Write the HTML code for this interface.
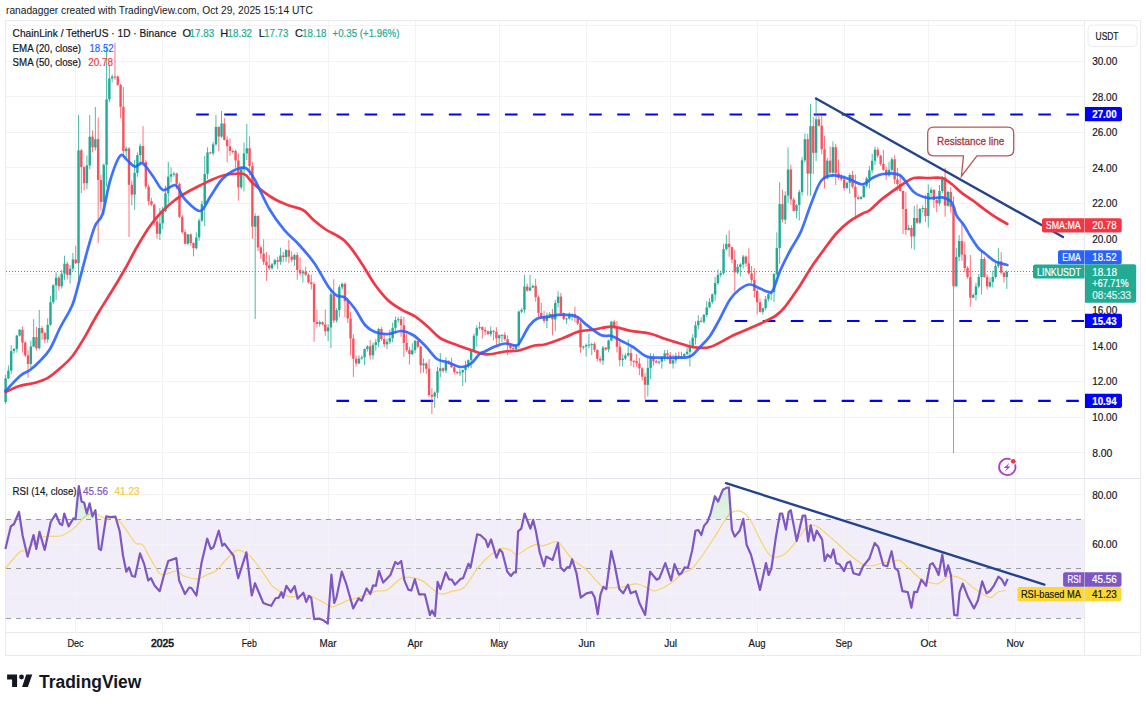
<!DOCTYPE html><html><head><meta charset="utf-8"><style>html,body{margin:0;padding:0;background:#fff;overflow:hidden}svg{display:block}</style></head><body>
<svg width="1146" height="704" viewBox="0 0 1146 704" font-family='"Liberation Sans", sans-serif'>
<rect x="0" y="0" width="1146" height="704" fill="#ffffff"/>
<text x="6" y="14.2" font-size="11" fill="#131722" textLength="307" lengthAdjust="spacingAndGlyphs">ranadagger created with TradingView.com, Oct 29, 2025 15:14 UTC</text>
<rect x="5.5" y="20.5" width="1135" height="635" fill="none" stroke="#e9eaed" stroke-width="1"/>
<rect x="6" y="519.3" width="1078" height="98.8" fill="#7e57c2" fill-opacity="0.1"/>
<line x1="6" y1="452.5" x2="1084" y2="452.5" stroke="#f2f3f4" stroke-width="1"/>
<line x1="6" y1="417.5" x2="1084" y2="417.5" stroke="#f2f3f4" stroke-width="1"/>
<line x1="6" y1="381.5" x2="1084" y2="381.5" stroke="#f2f3f4" stroke-width="1"/>
<line x1="6" y1="345.5" x2="1084" y2="345.5" stroke="#f2f3f4" stroke-width="1"/>
<line x1="6" y1="310.5" x2="1084" y2="310.5" stroke="#f2f3f4" stroke-width="1"/>
<line x1="6" y1="274.5" x2="1084" y2="274.5" stroke="#f2f3f4" stroke-width="1"/>
<line x1="6" y1="239.5" x2="1084" y2="239.5" stroke="#f2f3f4" stroke-width="1"/>
<line x1="6" y1="203.5" x2="1084" y2="203.5" stroke="#f2f3f4" stroke-width="1"/>
<line x1="6" y1="167.5" x2="1084" y2="167.5" stroke="#f2f3f4" stroke-width="1"/>
<line x1="6" y1="132.5" x2="1084" y2="132.5" stroke="#f2f3f4" stroke-width="1"/>
<line x1="6" y1="96.5" x2="1084" y2="96.5" stroke="#f2f3f4" stroke-width="1"/>
<line x1="6" y1="61.5" x2="1084" y2="61.5" stroke="#f2f3f4" stroke-width="1"/>
<line x1="6" y1="25.5" x2="1084" y2="25.5" stroke="#f2f3f4" stroke-width="1"/>
<line x1="6" y1="494.5" x2="1084" y2="494.5" stroke="#f2f3f4" stroke-width="1"/>
<line x1="6" y1="544.5" x2="1084" y2="544.5" stroke="#f2f3f4" stroke-width="1"/>
<line x1="6" y1="593.5" x2="1084" y2="593.5" stroke="#f2f3f4" stroke-width="1"/>
<line x1="75.5" y1="21" x2="75.5" y2="632" stroke="#f2f3f4" stroke-width="1"/>
<line x1="162.5" y1="21" x2="162.5" y2="632" stroke="#f2f3f4" stroke-width="1"/>
<line x1="249.5" y1="21" x2="249.5" y2="632" stroke="#f2f3f4" stroke-width="1"/>
<line x1="328.5" y1="21" x2="328.5" y2="632" stroke="#f2f3f4" stroke-width="1"/>
<line x1="415.5" y1="21" x2="415.5" y2="632" stroke="#f2f3f4" stroke-width="1"/>
<line x1="499.5" y1="21" x2="499.5" y2="632" stroke="#f2f3f4" stroke-width="1"/>
<line x1="586.5" y1="21" x2="586.5" y2="632" stroke="#f2f3f4" stroke-width="1"/>
<line x1="670.5" y1="21" x2="670.5" y2="632" stroke="#f2f3f4" stroke-width="1"/>
<line x1="757.5" y1="21" x2="757.5" y2="632" stroke="#f2f3f4" stroke-width="1"/>
<line x1="844.5" y1="21" x2="844.5" y2="632" stroke="#f2f3f4" stroke-width="1"/>
<line x1="928.5" y1="21" x2="928.5" y2="632" stroke="#f2f3f4" stroke-width="1"/>
<line x1="1015.5" y1="21" x2="1015.5" y2="632" stroke="#f2f3f4" stroke-width="1"/>
<line x1="6" y1="478.5" x2="1140" y2="478.5" stroke="#e3e5ec" stroke-width="1"/>
<line x1="6" y1="632.5" x2="1140" y2="632.5" stroke="#e9eaed" stroke-width="1"/>
<line x1="1084.5" y1="21" x2="1084.5" y2="655" stroke="#e9eaed" stroke-width="1"/>
<line x1="6" y1="519.5" x2="1084" y2="519.5" stroke="#858892" stroke-width="1" stroke-dasharray="5,5" stroke-opacity="0.85"/>
<line x1="6" y1="568.5" x2="1084" y2="568.5" stroke="#858892" stroke-width="1" stroke-dasharray="5,5" stroke-opacity="0.85"/>
<line x1="6" y1="618.5" x2="1084" y2="618.5" stroke="#858892" stroke-width="1" stroke-dasharray="5,5" stroke-opacity="0.85"/>
<line x1="6" y1="271.5" x2="1084" y2="271.5" stroke="#22ab94" stroke-width="1" stroke-dasharray="1,2"/>
<line x1="196.2" y1="114.5" x2="1084" y2="114.5" stroke="#0000ff" stroke-width="2.2" stroke-dasharray="12.6,15.47"/>
<line x1="734.7" y1="321" x2="1084" y2="321" stroke="#0000ff" stroke-width="2.2" stroke-dasharray="12.6,15.47"/>
<line x1="336.4" y1="400.9" x2="1084" y2="400.9" stroke="#0000ff" stroke-width="2.2" stroke-dasharray="12.6,15.47"/>
<g>
<rect x="5.10" y="374.8" width="1" height="29.2" fill="#22ab94" fill-opacity="0.8"/>
<rect x="7.90" y="365.5" width="1" height="13.6" fill="#22ab94" fill-opacity="0.8"/>
<rect x="10.71" y="345.3" width="1" height="28.9" fill="#22ab94" fill-opacity="0.8"/>
<rect x="13.51" y="348.2" width="1" height="5.6" fill="#22ab94" fill-opacity="0.8"/>
<rect x="16.32" y="334.9" width="1" height="17.6" fill="#22ab94" fill-opacity="0.8"/>
<rect x="19.12" y="329.0" width="1" height="7.4" fill="#22ab94" fill-opacity="0.8"/>
<rect x="21.93" y="326.3" width="1" height="26.3" fill="#f7525f" fill-opacity="0.8"/>
<rect x="24.73" y="341.3" width="1" height="15.8" fill="#f7525f" fill-opacity="0.8"/>
<rect x="27.54" y="350.4" width="1" height="27.3" fill="#f7525f" fill-opacity="0.8"/>
<rect x="30.34" y="340.5" width="1" height="27.2" fill="#22ab94" fill-opacity="0.8"/>
<rect x="33.14" y="319.1" width="1" height="28.1" fill="#22ab94" fill-opacity="0.8"/>
<rect x="35.95" y="326.8" width="1" height="23.7" fill="#f7525f" fill-opacity="0.8"/>
<rect x="38.75" y="310.0" width="1" height="39.6" fill="#22ab94" fill-opacity="0.8"/>
<rect x="41.56" y="326.1" width="1" height="13.8" fill="#f7525f" fill-opacity="0.8"/>
<rect x="44.36" y="331.8" width="1" height="11.6" fill="#f7525f" fill-opacity="0.8"/>
<rect x="47.17" y="318.4" width="1" height="24.3" fill="#22ab94" fill-opacity="0.8"/>
<rect x="49.97" y="295.7" width="1" height="30.1" fill="#22ab94" fill-opacity="0.8"/>
<rect x="52.78" y="284.3" width="1" height="19.9" fill="#22ab94" fill-opacity="0.8"/>
<rect x="55.58" y="272.3" width="1" height="27.7" fill="#22ab94" fill-opacity="0.8"/>
<rect x="58.39" y="275.5" width="1" height="15.1" fill="#f7525f" fill-opacity="0.8"/>
<rect x="61.19" y="270.0" width="1" height="18.6" fill="#22ab94" fill-opacity="0.8"/>
<rect x="63.99" y="255.7" width="1" height="24.3" fill="#22ab94" fill-opacity="0.8"/>
<rect x="66.80" y="261.8" width="1" height="17.8" fill="#f7525f" fill-opacity="0.8"/>
<rect x="69.60" y="265.2" width="1" height="18.3" fill="#22ab94" fill-opacity="0.8"/>
<rect x="72.41" y="253.0" width="1" height="17.8" fill="#22ab94" fill-opacity="0.8"/>
<rect x="75.21" y="245.7" width="1" height="18.4" fill="#f7525f" fill-opacity="0.8"/>
<rect x="78.02" y="115.0" width="1" height="170.1" fill="#22ab94" fill-opacity="0.8"/>
<rect x="80.82" y="148.7" width="1" height="44.3" fill="#f7525f" fill-opacity="0.8"/>
<rect x="83.63" y="166.3" width="1" height="24.2" fill="#f7525f" fill-opacity="0.8"/>
<rect x="86.43" y="155.5" width="1" height="33.7" fill="#22ab94" fill-opacity="0.8"/>
<rect x="89.23" y="115.0" width="1" height="54.3" fill="#22ab94" fill-opacity="0.8"/>
<rect x="92.04" y="130.4" width="1" height="22.1" fill="#f7525f" fill-opacity="0.8"/>
<rect x="94.84" y="107.0" width="1" height="43.6" fill="#22ab94" fill-opacity="0.8"/>
<rect x="97.65" y="117.6" width="1" height="125.4" fill="#f7525f" fill-opacity="0.8"/>
<rect x="100.45" y="174.7" width="1" height="35.9" fill="#f7525f" fill-opacity="0.8"/>
<rect x="103.26" y="163.7" width="1" height="51.8" fill="#22ab94" fill-opacity="0.8"/>
<rect x="106.06" y="46.0" width="1" height="140.8" fill="#22ab94" fill-opacity="0.8"/>
<rect x="108.87" y="65.4" width="1" height="36.9" fill="#22ab94" fill-opacity="0.8"/>
<rect x="111.67" y="74.5" width="1" height="7.7" fill="#22ab94" fill-opacity="0.8"/>
<rect x="114.47" y="43.0" width="1" height="36.8" fill="#f7525f" fill-opacity="0.8"/>
<rect x="117.28" y="75.3" width="1" height="10.6" fill="#f7525f" fill-opacity="0.8"/>
<rect x="120.08" y="83.9" width="1" height="34.3" fill="#f7525f" fill-opacity="0.8"/>
<rect x="122.89" y="87.0" width="1" height="68.2" fill="#f7525f" fill-opacity="0.8"/>
<rect x="125.69" y="146.4" width="1" height="11.9" fill="#22ab94" fill-opacity="0.8"/>
<rect x="128.50" y="147.1" width="1" height="89.9" fill="#f7525f" fill-opacity="0.8"/>
<rect x="131.30" y="180.5" width="1" height="24.9" fill="#f7525f" fill-opacity="0.8"/>
<rect x="134.11" y="159.8" width="1" height="50.1" fill="#22ab94" fill-opacity="0.8"/>
<rect x="136.91" y="152.5" width="1" height="24.4" fill="#22ab94" fill-opacity="0.8"/>
<rect x="139.72" y="143.6" width="1" height="21.9" fill="#22ab94" fill-opacity="0.8"/>
<rect x="142.52" y="126.2" width="1" height="37.5" fill="#f7525f" fill-opacity="0.8"/>
<rect x="145.32" y="160.1" width="1" height="28.9" fill="#f7525f" fill-opacity="0.8"/>
<rect x="148.13" y="184.4" width="1" height="21.1" fill="#f7525f" fill-opacity="0.8"/>
<rect x="150.93" y="197.6" width="1" height="8.5" fill="#f7525f" fill-opacity="0.8"/>
<rect x="153.74" y="204.1" width="1" height="21.2" fill="#f7525f" fill-opacity="0.8"/>
<rect x="156.54" y="218.5" width="1" height="20.3" fill="#f7525f" fill-opacity="0.8"/>
<rect x="159.35" y="208.0" width="1" height="32.0" fill="#22ab94" fill-opacity="0.8"/>
<rect x="162.15" y="206.8" width="1" height="22.3" fill="#22ab94" fill-opacity="0.8"/>
<rect x="164.96" y="185.6" width="1" height="26.4" fill="#22ab94" fill-opacity="0.8"/>
<rect x="167.76" y="161.8" width="1" height="41.6" fill="#22ab94" fill-opacity="0.8"/>
<rect x="170.56" y="167.3" width="1" height="15.0" fill="#22ab94" fill-opacity="0.8"/>
<rect x="173.37" y="171.7" width="1" height="4.8" fill="#22ab94" fill-opacity="0.8"/>
<rect x="176.17" y="172.6" width="1" height="16.6" fill="#f7525f" fill-opacity="0.8"/>
<rect x="178.98" y="182.6" width="1" height="35.3" fill="#f7525f" fill-opacity="0.8"/>
<rect x="181.78" y="214.8" width="1" height="19.0" fill="#f7525f" fill-opacity="0.8"/>
<rect x="184.59" y="229.6" width="1" height="14.9" fill="#f7525f" fill-opacity="0.8"/>
<rect x="187.39" y="233.9" width="1" height="11.1" fill="#22ab94" fill-opacity="0.8"/>
<rect x="190.20" y="233.4" width="1" height="12.1" fill="#f7525f" fill-opacity="0.8"/>
<rect x="193.00" y="242.4" width="1" height="14.0" fill="#f7525f" fill-opacity="0.8"/>
<rect x="195.80" y="232.3" width="1" height="17.2" fill="#22ab94" fill-opacity="0.8"/>
<rect x="198.61" y="218.3" width="1" height="22.4" fill="#22ab94" fill-opacity="0.8"/>
<rect x="201.41" y="200.8" width="1" height="21.1" fill="#22ab94" fill-opacity="0.8"/>
<rect x="204.22" y="156.0" width="1" height="70.2" fill="#22ab94" fill-opacity="0.8"/>
<rect x="207.02" y="147.3" width="1" height="31.9" fill="#22ab94" fill-opacity="0.8"/>
<rect x="209.83" y="151.7" width="1" height="2.6" fill="#f7525f" fill-opacity="0.8"/>
<rect x="212.63" y="141.9" width="1" height="13.5" fill="#22ab94" fill-opacity="0.8"/>
<rect x="215.44" y="115.0" width="1" height="30.9" fill="#22ab94" fill-opacity="0.8"/>
<rect x="218.24" y="126.3" width="1" height="25.1" fill="#f7525f" fill-opacity="0.8"/>
<rect x="221.05" y="111.0" width="1" height="26.9" fill="#22ab94" fill-opacity="0.8"/>
<rect x="223.85" y="118.1" width="1" height="22.4" fill="#f7525f" fill-opacity="0.8"/>
<rect x="226.65" y="136.3" width="1" height="25.9" fill="#f7525f" fill-opacity="0.8"/>
<rect x="229.46" y="138.5" width="1" height="17.2" fill="#f7525f" fill-opacity="0.8"/>
<rect x="232.26" y="149.6" width="1" height="4.1" fill="#f7525f" fill-opacity="0.8"/>
<rect x="235.07" y="149.6" width="1" height="18.2" fill="#f7525f" fill-opacity="0.8"/>
<rect x="237.87" y="153.4" width="1" height="47.2" fill="#f7525f" fill-opacity="0.8"/>
<rect x="240.68" y="166.2" width="1" height="23.2" fill="#22ab94" fill-opacity="0.8"/>
<rect x="243.48" y="142.7" width="1" height="48.6" fill="#22ab94" fill-opacity="0.8"/>
<rect x="246.29" y="124.0" width="1" height="36.0" fill="#22ab94" fill-opacity="0.8"/>
<rect x="249.09" y="136.6" width="1" height="38.8" fill="#f7525f" fill-opacity="0.8"/>
<rect x="251.89" y="161.5" width="1" height="77.3" fill="#f7525f" fill-opacity="0.8"/>
<rect x="254.70" y="213.3" width="1" height="105.7" fill="#22ab94" fill-opacity="0.8"/>
<rect x="257.50" y="215.2" width="1" height="35.9" fill="#f7525f" fill-opacity="0.8"/>
<rect x="260.31" y="245.8" width="1" height="13.0" fill="#f7525f" fill-opacity="0.8"/>
<rect x="263.11" y="239.2" width="1" height="25.7" fill="#f7525f" fill-opacity="0.8"/>
<rect x="265.92" y="252.0" width="1" height="28.9" fill="#f7525f" fill-opacity="0.8"/>
<rect x="268.72" y="254.9" width="1" height="15.2" fill="#f7525f" fill-opacity="0.8"/>
<rect x="271.53" y="262.9" width="1" height="6.7" fill="#22ab94" fill-opacity="0.8"/>
<rect x="274.33" y="258.9" width="1" height="6.7" fill="#22ab94" fill-opacity="0.8"/>
<rect x="277.13" y="256.8" width="1" height="12.3" fill="#f7525f" fill-opacity="0.8"/>
<rect x="279.94" y="247.7" width="1" height="17.2" fill="#22ab94" fill-opacity="0.8"/>
<rect x="282.74" y="251.9" width="1" height="10.3" fill="#f7525f" fill-opacity="0.8"/>
<rect x="285.55" y="249.2" width="1" height="12.7" fill="#22ab94" fill-opacity="0.8"/>
<rect x="288.35" y="239.9" width="1" height="23.4" fill="#f7525f" fill-opacity="0.8"/>
<rect x="291.16" y="251.6" width="1" height="10.6" fill="#f7525f" fill-opacity="0.8"/>
<rect x="293.96" y="253.9" width="1" height="11.9" fill="#22ab94" fill-opacity="0.8"/>
<rect x="296.77" y="252.2" width="1" height="27.6" fill="#f7525f" fill-opacity="0.8"/>
<rect x="299.57" y="257.4" width="1" height="18.0" fill="#f7525f" fill-opacity="0.8"/>
<rect x="302.38" y="269.6" width="1" height="12.9" fill="#22ab94" fill-opacity="0.8"/>
<rect x="305.18" y="266.8" width="1" height="9.1" fill="#f7525f" fill-opacity="0.8"/>
<rect x="307.98" y="273.7" width="1" height="9.8" fill="#f7525f" fill-opacity="0.8"/>
<rect x="310.79" y="274.9" width="1" height="14.5" fill="#f7525f" fill-opacity="0.8"/>
<rect x="313.59" y="281.8" width="1" height="60.0" fill="#f7525f" fill-opacity="0.8"/>
<rect x="316.40" y="309.7" width="1" height="17.9" fill="#f7525f" fill-opacity="0.8"/>
<rect x="319.20" y="320.4" width="1" height="6.4" fill="#22ab94" fill-opacity="0.8"/>
<rect x="322.01" y="321.3" width="1" height="3.8" fill="#f7525f" fill-opacity="0.8"/>
<rect x="324.81" y="309.6" width="1" height="26.3" fill="#f7525f" fill-opacity="0.8"/>
<rect x="327.62" y="324.3" width="1" height="16.7" fill="#22ab94" fill-opacity="0.8"/>
<rect x="330.42" y="288.2" width="1" height="60.0" fill="#22ab94" fill-opacity="0.8"/>
<rect x="333.22" y="279.2" width="1" height="43.8" fill="#f7525f" fill-opacity="0.8"/>
<rect x="336.03" y="308.0" width="1" height="14.6" fill="#22ab94" fill-opacity="0.8"/>
<rect x="338.83" y="284.6" width="1" height="32.5" fill="#22ab94" fill-opacity="0.8"/>
<rect x="341.64" y="282.4" width="1" height="7.2" fill="#22ab94" fill-opacity="0.8"/>
<rect x="344.44" y="282.5" width="1" height="34.6" fill="#f7525f" fill-opacity="0.8"/>
<rect x="347.25" y="297.8" width="1" height="25.2" fill="#f7525f" fill-opacity="0.8"/>
<rect x="350.05" y="312.0" width="1" height="43.4" fill="#f7525f" fill-opacity="0.8"/>
<rect x="352.86" y="334.1" width="1" height="42.8" fill="#f7525f" fill-opacity="0.8"/>
<rect x="355.66" y="355.7" width="1" height="11.0" fill="#f7525f" fill-opacity="0.8"/>
<rect x="358.46" y="355.4" width="1" height="8.7" fill="#22ab94" fill-opacity="0.8"/>
<rect x="361.27" y="355.3" width="1" height="4.4" fill="#22ab94" fill-opacity="0.8"/>
<rect x="364.07" y="348.5" width="1" height="16.5" fill="#22ab94" fill-opacity="0.8"/>
<rect x="366.88" y="345.3" width="1" height="6.3" fill="#22ab94" fill-opacity="0.8"/>
<rect x="369.68" y="340.0" width="1" height="19.6" fill="#f7525f" fill-opacity="0.8"/>
<rect x="372.49" y="342.6" width="1" height="16.8" fill="#22ab94" fill-opacity="0.8"/>
<rect x="375.29" y="339.1" width="1" height="11.4" fill="#22ab94" fill-opacity="0.8"/>
<rect x="378.10" y="327.9" width="1" height="19.3" fill="#22ab94" fill-opacity="0.8"/>
<rect x="380.90" y="327.1" width="1" height="13.9" fill="#f7525f" fill-opacity="0.8"/>
<rect x="383.71" y="333.0" width="1" height="14.4" fill="#f7525f" fill-opacity="0.8"/>
<rect x="386.51" y="338.5" width="1" height="10.7" fill="#22ab94" fill-opacity="0.8"/>
<rect x="389.31" y="329.5" width="1" height="14.6" fill="#22ab94" fill-opacity="0.8"/>
<rect x="392.12" y="322.7" width="1" height="19.4" fill="#22ab94" fill-opacity="0.8"/>
<rect x="394.92" y="316.4" width="1" height="17.0" fill="#22ab94" fill-opacity="0.8"/>
<rect x="397.73" y="317.0" width="1" height="5.8" fill="#22ab94" fill-opacity="0.8"/>
<rect x="400.53" y="316.1" width="1" height="20.5" fill="#f7525f" fill-opacity="0.8"/>
<rect x="403.34" y="316.8" width="1" height="40.2" fill="#f7525f" fill-opacity="0.8"/>
<rect x="406.14" y="330.4" width="1" height="21.4" fill="#f7525f" fill-opacity="0.8"/>
<rect x="408.95" y="346.7" width="1" height="17.8" fill="#f7525f" fill-opacity="0.8"/>
<rect x="411.75" y="343.3" width="1" height="11.7" fill="#22ab94" fill-opacity="0.8"/>
<rect x="414.55" y="339.8" width="1" height="13.5" fill="#22ab94" fill-opacity="0.8"/>
<rect x="417.36" y="340.2" width="1" height="8.1" fill="#f7525f" fill-opacity="0.8"/>
<rect x="420.16" y="345.7" width="1" height="27.5" fill="#f7525f" fill-opacity="0.8"/>
<rect x="422.97" y="358.4" width="1" height="14.3" fill="#22ab94" fill-opacity="0.8"/>
<rect x="425.77" y="362.3" width="1" height="11.5" fill="#f7525f" fill-opacity="0.8"/>
<rect x="428.58" y="359.1" width="1" height="37.8" fill="#f7525f" fill-opacity="0.8"/>
<rect x="431.38" y="388.2" width="1" height="25.8" fill="#f7525f" fill-opacity="0.8"/>
<rect x="434.19" y="391.3" width="1" height="16.5" fill="#22ab94" fill-opacity="0.8"/>
<rect x="436.99" y="366.9" width="1" height="31.2" fill="#22ab94" fill-opacity="0.8"/>
<rect x="439.79" y="353.0" width="1" height="24.3" fill="#22ab94" fill-opacity="0.8"/>
<rect x="442.60" y="367.2" width="1" height="5.7" fill="#f7525f" fill-opacity="0.8"/>
<rect x="445.40" y="357.4" width="1" height="15.7" fill="#22ab94" fill-opacity="0.8"/>
<rect x="448.21" y="360.2" width="1" height="4.2" fill="#f7525f" fill-opacity="0.8"/>
<rect x="451.01" y="357.7" width="1" height="10.0" fill="#f7525f" fill-opacity="0.8"/>
<rect x="453.82" y="363.8" width="1" height="10.7" fill="#f7525f" fill-opacity="0.8"/>
<rect x="456.62" y="371.3" width="1" height="3.3" fill="#f7525f" fill-opacity="0.8"/>
<rect x="459.43" y="369.1" width="1" height="6.8" fill="#22ab94" fill-opacity="0.8"/>
<rect x="462.23" y="369.4" width="1" height="16.6" fill="#22ab94" fill-opacity="0.8"/>
<rect x="465.04" y="360.8" width="1" height="21.8" fill="#22ab94" fill-opacity="0.8"/>
<rect x="467.84" y="359.2" width="1" height="9.1" fill="#22ab94" fill-opacity="0.8"/>
<rect x="470.64" y="349.1" width="1" height="18.9" fill="#22ab94" fill-opacity="0.8"/>
<rect x="473.45" y="333.4" width="1" height="17.7" fill="#22ab94" fill-opacity="0.8"/>
<rect x="476.25" y="325.3" width="1" height="21.3" fill="#22ab94" fill-opacity="0.8"/>
<rect x="479.06" y="321.8" width="1" height="7.7" fill="#22ab94" fill-opacity="0.8"/>
<rect x="481.86" y="326.1" width="1" height="12.4" fill="#f7525f" fill-opacity="0.8"/>
<rect x="484.67" y="327.0" width="1" height="8.3" fill="#f7525f" fill-opacity="0.8"/>
<rect x="487.47" y="330.5" width="1" height="4.3" fill="#f7525f" fill-opacity="0.8"/>
<rect x="490.28" y="326.4" width="1" height="10.1" fill="#22ab94" fill-opacity="0.8"/>
<rect x="493.08" y="330.1" width="1" height="10.1" fill="#f7525f" fill-opacity="0.8"/>
<rect x="495.88" y="327.2" width="1" height="18.1" fill="#f7525f" fill-opacity="0.8"/>
<rect x="498.69" y="334.4" width="1" height="10.7" fill="#22ab94" fill-opacity="0.8"/>
<rect x="501.49" y="334.2" width="1" height="7.8" fill="#22ab94" fill-opacity="0.8"/>
<rect x="504.30" y="332.2" width="1" height="8.8" fill="#f7525f" fill-opacity="0.8"/>
<rect x="507.10" y="335.5" width="1" height="19.7" fill="#f7525f" fill-opacity="0.8"/>
<rect x="509.91" y="343.2" width="1" height="6.0" fill="#f7525f" fill-opacity="0.8"/>
<rect x="512.71" y="345.6" width="1" height="4.9" fill="#f7525f" fill-opacity="0.8"/>
<rect x="515.52" y="344.4" width="1" height="5.9" fill="#22ab94" fill-opacity="0.8"/>
<rect x="518.32" y="310.6" width="1" height="37.5" fill="#22ab94" fill-opacity="0.8"/>
<rect x="521.12" y="308.1" width="1" height="5.1" fill="#22ab94" fill-opacity="0.8"/>
<rect x="523.93" y="275.0" width="1" height="37.9" fill="#22ab94" fill-opacity="0.8"/>
<rect x="526.73" y="283.6" width="1" height="8.1" fill="#f7525f" fill-opacity="0.8"/>
<rect x="529.54" y="275.0" width="1" height="16.1" fill="#22ab94" fill-opacity="0.8"/>
<rect x="532.34" y="284.5" width="1" height="3.5" fill="#22ab94" fill-opacity="0.8"/>
<rect x="535.15" y="278.7" width="1" height="22.9" fill="#f7525f" fill-opacity="0.8"/>
<rect x="537.95" y="295.3" width="1" height="22.0" fill="#f7525f" fill-opacity="0.8"/>
<rect x="540.76" y="302.6" width="1" height="15.5" fill="#f7525f" fill-opacity="0.8"/>
<rect x="543.56" y="310.9" width="1" height="12.4" fill="#f7525f" fill-opacity="0.8"/>
<rect x="546.36" y="312.4" width="1" height="15.8" fill="#22ab94" fill-opacity="0.8"/>
<rect x="549.17" y="312.1" width="1" height="6.0" fill="#22ab94" fill-opacity="0.8"/>
<rect x="551.97" y="309.1" width="1" height="26.4" fill="#f7525f" fill-opacity="0.8"/>
<rect x="554.78" y="299.9" width="1" height="31.3" fill="#22ab94" fill-opacity="0.8"/>
<rect x="557.58" y="291.2" width="1" height="16.4" fill="#22ab94" fill-opacity="0.8"/>
<rect x="560.39" y="292.9" width="1" height="23.5" fill="#f7525f" fill-opacity="0.8"/>
<rect x="563.19" y="312.5" width="1" height="7.6" fill="#f7525f" fill-opacity="0.8"/>
<rect x="566.00" y="317.8" width="1" height="6.0" fill="#22ab94" fill-opacity="0.8"/>
<rect x="568.80" y="312.4" width="1" height="7.2" fill="#22ab94" fill-opacity="0.8"/>
<rect x="571.61" y="313.2" width="1" height="7.4" fill="#22ab94" fill-opacity="0.8"/>
<rect x="574.41" y="306.5" width="1" height="15.5" fill="#f7525f" fill-opacity="0.8"/>
<rect x="577.21" y="315.9" width="1" height="9.2" fill="#f7525f" fill-opacity="0.8"/>
<rect x="580.02" y="320.3" width="1" height="32.5" fill="#f7525f" fill-opacity="0.8"/>
<rect x="582.82" y="345.5" width="1" height="4.1" fill="#22ab94" fill-opacity="0.8"/>
<rect x="585.63" y="343.7" width="1" height="12.8" fill="#22ab94" fill-opacity="0.8"/>
<rect x="588.43" y="333.9" width="1" height="14.4" fill="#22ab94" fill-opacity="0.8"/>
<rect x="591.24" y="342.8" width="1" height="12.3" fill="#22ab94" fill-opacity="0.8"/>
<rect x="594.04" y="342.2" width="1" height="9.8" fill="#f7525f" fill-opacity="0.8"/>
<rect x="596.85" y="349.3" width="1" height="12.2" fill="#f7525f" fill-opacity="0.8"/>
<rect x="599.65" y="356.4" width="1" height="6.7" fill="#f7525f" fill-opacity="0.8"/>
<rect x="602.45" y="345.9" width="1" height="18.9" fill="#22ab94" fill-opacity="0.8"/>
<rect x="605.26" y="347.1" width="1" height="3.8" fill="#f7525f" fill-opacity="0.8"/>
<rect x="608.06" y="339.6" width="1" height="12.7" fill="#22ab94" fill-opacity="0.8"/>
<rect x="610.87" y="320.9" width="1" height="20.3" fill="#22ab94" fill-opacity="0.8"/>
<rect x="613.67" y="319.8" width="1" height="9.4" fill="#f7525f" fill-opacity="0.8"/>
<rect x="616.48" y="321.1" width="1" height="31.4" fill="#f7525f" fill-opacity="0.8"/>
<rect x="619.28" y="338.7" width="1" height="27.6" fill="#f7525f" fill-opacity="0.8"/>
<rect x="622.09" y="354.4" width="1" height="12.2" fill="#22ab94" fill-opacity="0.8"/>
<rect x="624.89" y="353.4" width="1" height="6.9" fill="#22ab94" fill-opacity="0.8"/>
<rect x="627.69" y="339.5" width="1" height="17.1" fill="#22ab94" fill-opacity="0.8"/>
<rect x="630.50" y="347.1" width="1" height="18.7" fill="#f7525f" fill-opacity="0.8"/>
<rect x="633.30" y="360.2" width="1" height="7.2" fill="#f7525f" fill-opacity="0.8"/>
<rect x="636.11" y="353.8" width="1" height="13.1" fill="#f7525f" fill-opacity="0.8"/>
<rect x="638.91" y="357.9" width="1" height="17.2" fill="#f7525f" fill-opacity="0.8"/>
<rect x="641.72" y="367.2" width="1" height="13.3" fill="#f7525f" fill-opacity="0.8"/>
<rect x="644.52" y="373.1" width="1" height="26.4" fill="#f7525f" fill-opacity="0.8"/>
<rect x="647.33" y="357.0" width="1" height="39.4" fill="#22ab94" fill-opacity="0.8"/>
<rect x="650.13" y="353.1" width="1" height="26.0" fill="#22ab94" fill-opacity="0.8"/>
<rect x="652.94" y="353.5" width="1" height="12.2" fill="#f7525f" fill-opacity="0.8"/>
<rect x="655.74" y="359.9" width="1" height="3.3" fill="#f7525f" fill-opacity="0.8"/>
<rect x="658.54" y="360.7" width="1" height="3.7" fill="#22ab94" fill-opacity="0.8"/>
<rect x="661.35" y="356.2" width="1" height="12.4" fill="#22ab94" fill-opacity="0.8"/>
<rect x="664.15" y="350.0" width="1" height="11.0" fill="#22ab94" fill-opacity="0.8"/>
<rect x="666.96" y="349.8" width="1" height="9.7" fill="#f7525f" fill-opacity="0.8"/>
<rect x="669.76" y="352.0" width="1" height="12.1" fill="#f7525f" fill-opacity="0.8"/>
<rect x="672.57" y="354.5" width="1" height="14.1" fill="#22ab94" fill-opacity="0.8"/>
<rect x="675.37" y="352.6" width="1" height="11.0" fill="#22ab94" fill-opacity="0.8"/>
<rect x="678.18" y="351.9" width="1" height="6.6" fill="#f7525f" fill-opacity="0.8"/>
<rect x="680.98" y="351.7" width="1" height="7.4" fill="#22ab94" fill-opacity="0.8"/>
<rect x="683.78" y="353.3" width="1" height="4.3" fill="#22ab94" fill-opacity="0.8"/>
<rect x="686.59" y="347.3" width="1" height="8.0" fill="#22ab94" fill-opacity="0.8"/>
<rect x="689.39" y="340.6" width="1" height="26.0" fill="#22ab94" fill-opacity="0.8"/>
<rect x="692.20" y="334.2" width="1" height="14.6" fill="#22ab94" fill-opacity="0.8"/>
<rect x="695.00" y="321.2" width="1" height="23.3" fill="#22ab94" fill-opacity="0.8"/>
<rect x="697.81" y="315.1" width="1" height="14.0" fill="#22ab94" fill-opacity="0.8"/>
<rect x="700.61" y="317.4" width="1" height="5.1" fill="#f7525f" fill-opacity="0.8"/>
<rect x="703.42" y="313.8" width="1" height="9.7" fill="#22ab94" fill-opacity="0.8"/>
<rect x="706.22" y="301.2" width="1" height="15.8" fill="#22ab94" fill-opacity="0.8"/>
<rect x="709.02" y="298.2" width="1" height="9.8" fill="#22ab94" fill-opacity="0.8"/>
<rect x="711.83" y="293.6" width="1" height="10.2" fill="#22ab94" fill-opacity="0.8"/>
<rect x="714.63" y="276.9" width="1" height="23.9" fill="#22ab94" fill-opacity="0.8"/>
<rect x="717.44" y="269.4" width="1" height="15.7" fill="#22ab94" fill-opacity="0.8"/>
<rect x="720.24" y="270.6" width="1" height="6.7" fill="#22ab94" fill-opacity="0.8"/>
<rect x="723.05" y="243.7" width="1" height="31.0" fill="#22ab94" fill-opacity="0.8"/>
<rect x="725.85" y="234.8" width="1" height="15.7" fill="#22ab94" fill-opacity="0.8"/>
<rect x="728.66" y="230.5" width="1" height="26.4" fill="#f7525f" fill-opacity="0.8"/>
<rect x="731.46" y="246.6" width="1" height="16.8" fill="#f7525f" fill-opacity="0.8"/>
<rect x="734.27" y="249.8" width="1" height="41.8" fill="#f7525f" fill-opacity="0.8"/>
<rect x="737.07" y="264.1" width="1" height="10.1" fill="#22ab94" fill-opacity="0.8"/>
<rect x="739.87" y="263.1" width="1" height="13.4" fill="#22ab94" fill-opacity="0.8"/>
<rect x="742.68" y="255.0" width="1" height="13.6" fill="#22ab94" fill-opacity="0.8"/>
<rect x="745.48" y="255.4" width="1" height="11.5" fill="#f7525f" fill-opacity="0.8"/>
<rect x="748.29" y="248.3" width="1" height="26.2" fill="#f7525f" fill-opacity="0.8"/>
<rect x="751.09" y="265.8" width="1" height="17.4" fill="#f7525f" fill-opacity="0.8"/>
<rect x="753.90" y="268.3" width="1" height="29.3" fill="#f7525f" fill-opacity="0.8"/>
<rect x="756.70" y="289.2" width="1" height="25.1" fill="#f7525f" fill-opacity="0.8"/>
<rect x="759.51" y="298.6" width="1" height="13.8" fill="#f7525f" fill-opacity="0.8"/>
<rect x="762.31" y="307.6" width="1" height="6.9" fill="#22ab94" fill-opacity="0.8"/>
<rect x="765.11" y="296.0" width="1" height="14.3" fill="#22ab94" fill-opacity="0.8"/>
<rect x="767.92" y="293.1" width="1" height="8.1" fill="#22ab94" fill-opacity="0.8"/>
<rect x="770.72" y="290.5" width="1" height="9.7" fill="#22ab94" fill-opacity="0.8"/>
<rect x="773.53" y="273.4" width="1" height="28.5" fill="#22ab94" fill-opacity="0.8"/>
<rect x="776.33" y="232.3" width="1" height="43.2" fill="#22ab94" fill-opacity="0.8"/>
<rect x="779.14" y="182.1" width="1" height="81.7" fill="#22ab94" fill-opacity="0.8"/>
<rect x="781.94" y="189.7" width="1" height="32.5" fill="#f7525f" fill-opacity="0.8"/>
<rect x="784.75" y="191.3" width="1" height="32.8" fill="#22ab94" fill-opacity="0.8"/>
<rect x="787.55" y="147.5" width="1" height="55.9" fill="#22ab94" fill-opacity="0.8"/>
<rect x="790.35" y="164.8" width="1" height="40.3" fill="#f7525f" fill-opacity="0.8"/>
<rect x="793.16" y="197.4" width="1" height="14.2" fill="#f7525f" fill-opacity="0.8"/>
<rect x="795.96" y="204.2" width="1" height="14.1" fill="#22ab94" fill-opacity="0.8"/>
<rect x="798.77" y="189.8" width="1" height="30.7" fill="#22ab94" fill-opacity="0.8"/>
<rect x="801.57" y="157.1" width="1" height="38.6" fill="#22ab94" fill-opacity="0.8"/>
<rect x="804.38" y="133.5" width="1" height="28.9" fill="#22ab94" fill-opacity="0.8"/>
<rect x="807.18" y="133.9" width="1" height="61.6" fill="#f7525f" fill-opacity="0.8"/>
<rect x="809.99" y="104.1" width="1" height="91.5" fill="#22ab94" fill-opacity="0.8"/>
<rect x="812.79" y="117.1" width="1" height="57.0" fill="#f7525f" fill-opacity="0.8"/>
<rect x="815.60" y="97.3" width="1" height="63.9" fill="#22ab94" fill-opacity="0.8"/>
<rect x="818.40" y="113.8" width="1" height="12.7" fill="#f7525f" fill-opacity="0.8"/>
<rect x="821.20" y="115.0" width="1" height="39.3" fill="#f7525f" fill-opacity="0.8"/>
<rect x="824.01" y="136.0" width="1" height="52.4" fill="#f7525f" fill-opacity="0.8"/>
<rect x="826.81" y="157.9" width="1" height="21.5" fill="#22ab94" fill-opacity="0.8"/>
<rect x="829.62" y="146.4" width="1" height="27.4" fill="#f7525f" fill-opacity="0.8"/>
<rect x="832.42" y="141.5" width="1" height="35.1" fill="#22ab94" fill-opacity="0.8"/>
<rect x="835.23" y="143.8" width="1" height="41.2" fill="#f7525f" fill-opacity="0.8"/>
<rect x="838.03" y="159.3" width="1" height="20.1" fill="#f7525f" fill-opacity="0.8"/>
<rect x="840.84" y="174.2" width="1" height="6.8" fill="#f7525f" fill-opacity="0.8"/>
<rect x="843.64" y="175.3" width="1" height="15.4" fill="#f7525f" fill-opacity="0.8"/>
<rect x="846.44" y="181.7" width="1" height="7.5" fill="#22ab94" fill-opacity="0.8"/>
<rect x="849.25" y="173.5" width="1" height="20.0" fill="#22ab94" fill-opacity="0.8"/>
<rect x="852.05" y="171.0" width="1" height="17.5" fill="#f7525f" fill-opacity="0.8"/>
<rect x="854.86" y="174.4" width="1" height="45.0" fill="#f7525f" fill-opacity="0.8"/>
<rect x="857.66" y="195.2" width="1" height="4.7" fill="#f7525f" fill-opacity="0.8"/>
<rect x="860.47" y="195.9" width="1" height="3.8" fill="#22ab94" fill-opacity="0.8"/>
<rect x="863.27" y="183.3" width="1" height="14.7" fill="#22ab94" fill-opacity="0.8"/>
<rect x="866.08" y="176.7" width="1" height="10.9" fill="#22ab94" fill-opacity="0.8"/>
<rect x="868.88" y="166.1" width="1" height="22.3" fill="#22ab94" fill-opacity="0.8"/>
<rect x="871.68" y="153.8" width="1" height="19.6" fill="#22ab94" fill-opacity="0.8"/>
<rect x="874.49" y="146.5" width="1" height="18.6" fill="#22ab94" fill-opacity="0.8"/>
<rect x="877.29" y="147.3" width="1" height="10.5" fill="#f7525f" fill-opacity="0.8"/>
<rect x="880.10" y="154.9" width="1" height="10.9" fill="#f7525f" fill-opacity="0.8"/>
<rect x="882.90" y="149.9" width="1" height="20.9" fill="#f7525f" fill-opacity="0.8"/>
<rect x="885.71" y="166.6" width="1" height="13.2" fill="#f7525f" fill-opacity="0.8"/>
<rect x="888.51" y="161.7" width="1" height="15.2" fill="#22ab94" fill-opacity="0.8"/>
<rect x="891.32" y="157.2" width="1" height="14.5" fill="#22ab94" fill-opacity="0.8"/>
<rect x="894.12" y="155.2" width="1" height="29.0" fill="#f7525f" fill-opacity="0.8"/>
<rect x="896.93" y="168.0" width="1" height="23.3" fill="#f7525f" fill-opacity="0.8"/>
<rect x="899.73" y="174.9" width="1" height="16.6" fill="#f7525f" fill-opacity="0.8"/>
<rect x="902.53" y="190.3" width="1" height="43.7" fill="#f7525f" fill-opacity="0.8"/>
<rect x="905.34" y="192.2" width="1" height="42.9" fill="#f7525f" fill-opacity="0.8"/>
<rect x="908.14" y="224.8" width="1" height="5.7" fill="#22ab94" fill-opacity="0.8"/>
<rect x="910.95" y="225.3" width="1" height="23.2" fill="#f7525f" fill-opacity="0.8"/>
<rect x="913.75" y="205.9" width="1" height="43.8" fill="#22ab94" fill-opacity="0.8"/>
<rect x="916.56" y="204.5" width="1" height="19.7" fill="#f7525f" fill-opacity="0.8"/>
<rect x="919.36" y="207.9" width="1" height="16.3" fill="#22ab94" fill-opacity="0.8"/>
<rect x="922.17" y="205.4" width="1" height="7.3" fill="#22ab94" fill-opacity="0.8"/>
<rect x="924.97" y="195.1" width="1" height="26.9" fill="#f7525f" fill-opacity="0.8"/>
<rect x="927.77" y="184.5" width="1" height="43.1" fill="#22ab94" fill-opacity="0.8"/>
<rect x="930.58" y="187.3" width="1" height="8.9" fill="#22ab94" fill-opacity="0.8"/>
<rect x="933.38" y="189.1" width="1" height="18.8" fill="#f7525f" fill-opacity="0.8"/>
<rect x="936.19" y="198.6" width="1" height="13.7" fill="#f7525f" fill-opacity="0.8"/>
<rect x="938.99" y="185.0" width="1" height="20.9" fill="#22ab94" fill-opacity="0.8"/>
<rect x="941.80" y="176.0" width="1" height="17.1" fill="#22ab94" fill-opacity="0.8"/>
<rect x="944.60" y="167.9" width="1" height="48.9" fill="#f7525f" fill-opacity="0.8"/>
<rect x="947.41" y="190.9" width="1" height="15.7" fill="#22ab94" fill-opacity="0.8"/>
<rect x="950.21" y="187.2" width="1" height="25.3" fill="#f7525f" fill-opacity="0.8"/>
<rect x="953.01" y="196.4" width="1" height="256.6" fill="#f7525f" fill-opacity="0.8"/>
<rect x="955.82" y="247.9" width="1" height="39.0" fill="#22ab94" fill-opacity="0.8"/>
<rect x="958.62" y="235.0" width="1" height="26.1" fill="#22ab94" fill-opacity="0.8"/>
<rect x="961.43" y="222.8" width="1" height="38.0" fill="#f7525f" fill-opacity="0.8"/>
<rect x="964.23" y="242.0" width="1" height="30.1" fill="#f7525f" fill-opacity="0.8"/>
<rect x="967.04" y="266.3" width="1" height="12.5" fill="#f7525f" fill-opacity="0.8"/>
<rect x="969.84" y="255.0" width="1" height="51.9" fill="#f7525f" fill-opacity="0.8"/>
<rect x="972.65" y="293.3" width="1" height="4.9" fill="#22ab94" fill-opacity="0.8"/>
<rect x="975.45" y="282.8" width="1" height="17.7" fill="#22ab94" fill-opacity="0.8"/>
<rect x="978.26" y="274.0" width="1" height="14.3" fill="#22ab94" fill-opacity="0.8"/>
<rect x="981.06" y="251.3" width="1" height="43.3" fill="#22ab94" fill-opacity="0.8"/>
<rect x="983.86" y="256.8" width="1" height="20.9" fill="#f7525f" fill-opacity="0.8"/>
<rect x="986.67" y="274.6" width="1" height="14.9" fill="#f7525f" fill-opacity="0.8"/>
<rect x="989.47" y="277.4" width="1" height="10.3" fill="#22ab94" fill-opacity="0.8"/>
<rect x="992.28" y="270.6" width="1" height="16.9" fill="#22ab94" fill-opacity="0.8"/>
<rect x="995.08" y="262.0" width="1" height="16.7" fill="#22ab94" fill-opacity="0.8"/>
<rect x="997.89" y="248.3" width="1" height="19.6" fill="#22ab94" fill-opacity="0.8"/>
<rect x="1000.69" y="252.2" width="1" height="22.4" fill="#f7525f" fill-opacity="0.8"/>
<rect x="1003.50" y="271.3" width="1" height="11.2" fill="#f7525f" fill-opacity="0.8"/>
<rect x="1006.30" y="270.0" width="1" height="18.9" fill="#22ab94" fill-opacity="0.8"/>
<rect x="4.40" y="378.3" width="2.4" height="23.7" fill="#22ab94"/>
<rect x="7.20" y="370.6" width="2.4" height="7.8" fill="#22ab94"/>
<rect x="10.01" y="351.1" width="2.4" height="19.5" fill="#22ab94"/>
<rect x="12.81" y="348.8" width="2.4" height="2.2" fill="#22ab94"/>
<rect x="15.62" y="335.6" width="2.4" height="13.3" fill="#22ab94"/>
<rect x="18.42" y="329.8" width="2.4" height="5.8" fill="#22ab94"/>
<rect x="21.23" y="329.8" width="2.4" height="12.8" fill="#f7525f"/>
<rect x="24.03" y="342.6" width="2.4" height="12.8" fill="#f7525f"/>
<rect x="26.84" y="355.3" width="2.4" height="8.6" fill="#f7525f"/>
<rect x="29.64" y="346.5" width="2.4" height="17.4" fill="#22ab94"/>
<rect x="32.44" y="337.1" width="2.4" height="9.4" fill="#22ab94"/>
<rect x="35.25" y="337.1" width="2.4" height="11.1" fill="#f7525f"/>
<rect x="38.05" y="328.0" width="2.4" height="20.2" fill="#22ab94"/>
<rect x="40.86" y="328.0" width="2.4" height="5.1" fill="#f7525f"/>
<rect x="43.66" y="333.1" width="2.4" height="6.4" fill="#f7525f"/>
<rect x="46.47" y="324.8" width="2.4" height="14.6" fill="#22ab94"/>
<rect x="49.27" y="302.2" width="2.4" height="22.6" fill="#22ab94"/>
<rect x="52.08" y="285.2" width="2.4" height="17.0" fill="#22ab94"/>
<rect x="54.88" y="277.7" width="2.4" height="7.6" fill="#22ab94"/>
<rect x="57.69" y="277.7" width="2.4" height="8.5" fill="#f7525f"/>
<rect x="60.49" y="273.7" width="2.4" height="12.5" fill="#22ab94"/>
<rect x="63.29" y="263.7" width="2.4" height="10.0" fill="#22ab94"/>
<rect x="66.10" y="263.7" width="2.4" height="11.1" fill="#f7525f"/>
<rect x="68.90" y="268.7" width="2.4" height="6.2" fill="#22ab94"/>
<rect x="71.71" y="259.5" width="2.4" height="9.2" fill="#22ab94"/>
<rect x="74.51" y="259.5" width="2.4" height="3.6" fill="#f7525f"/>
<rect x="77.32" y="150.3" width="2.4" height="112.9" fill="#22ab94"/>
<rect x="80.12" y="150.3" width="2.4" height="16.8" fill="#f7525f"/>
<rect x="82.93" y="167.0" width="2.4" height="16.2" fill="#f7525f"/>
<rect x="85.73" y="165.4" width="2.4" height="17.8" fill="#22ab94"/>
<rect x="88.53" y="136.7" width="2.4" height="28.7" fill="#22ab94"/>
<rect x="91.34" y="136.7" width="2.4" height="10.7" fill="#f7525f"/>
<rect x="94.14" y="139.2" width="2.4" height="8.2" fill="#22ab94"/>
<rect x="96.95" y="139.2" width="2.4" height="40.7" fill="#f7525f"/>
<rect x="99.75" y="180.0" width="2.4" height="22.0" fill="#f7525f"/>
<rect x="102.56" y="164.8" width="2.4" height="37.1" fill="#22ab94"/>
<rect x="105.36" y="99.4" width="2.4" height="65.4" fill="#22ab94"/>
<rect x="108.17" y="78.4" width="2.4" height="21.0" fill="#22ab94"/>
<rect x="110.97" y="76.5" width="2.4" height="1.9" fill="#22ab94"/>
<rect x="113.77" y="76.5" width="2.4" height="1.0" fill="#f7525f"/>
<rect x="116.58" y="76.6" width="2.4" height="8.3" fill="#f7525f"/>
<rect x="119.38" y="84.9" width="2.4" height="22.0" fill="#f7525f"/>
<rect x="122.19" y="106.9" width="2.4" height="44.3" fill="#f7525f"/>
<rect x="124.99" y="148.5" width="2.4" height="2.7" fill="#22ab94"/>
<rect x="127.80" y="148.5" width="2.4" height="36.3" fill="#f7525f"/>
<rect x="130.60" y="184.8" width="2.4" height="9.9" fill="#f7525f"/>
<rect x="133.41" y="172.9" width="2.4" height="21.7" fill="#22ab94"/>
<rect x="136.21" y="155.1" width="2.4" height="17.8" fill="#22ab94"/>
<rect x="139.02" y="146.1" width="2.4" height="9.0" fill="#22ab94"/>
<rect x="141.82" y="146.1" width="2.4" height="16.1" fill="#f7525f"/>
<rect x="144.62" y="162.2" width="2.4" height="24.3" fill="#f7525f"/>
<rect x="147.43" y="186.5" width="2.4" height="14.7" fill="#f7525f"/>
<rect x="150.23" y="201.1" width="2.4" height="3.5" fill="#f7525f"/>
<rect x="153.04" y="204.6" width="2.4" height="16.8" fill="#f7525f"/>
<rect x="155.84" y="221.4" width="2.4" height="12.4" fill="#f7525f"/>
<rect x="158.65" y="223.5" width="2.4" height="10.3" fill="#22ab94"/>
<rect x="161.45" y="211.1" width="2.4" height="12.3" fill="#22ab94"/>
<rect x="164.26" y="193.4" width="2.4" height="17.7" fill="#22ab94"/>
<rect x="167.06" y="176.7" width="2.4" height="16.7" fill="#22ab94"/>
<rect x="169.86" y="174.3" width="2.4" height="2.4" fill="#22ab94"/>
<rect x="172.67" y="173.6" width="2.4" height="1.0" fill="#22ab94"/>
<rect x="175.47" y="173.6" width="2.4" height="10.2" fill="#f7525f"/>
<rect x="178.28" y="183.8" width="2.4" height="33.0" fill="#f7525f"/>
<rect x="181.08" y="216.7" width="2.4" height="15.5" fill="#f7525f"/>
<rect x="183.89" y="232.2" width="2.4" height="11.5" fill="#f7525f"/>
<rect x="186.69" y="234.4" width="2.4" height="9.3" fill="#22ab94"/>
<rect x="189.50" y="234.4" width="2.4" height="8.6" fill="#f7525f"/>
<rect x="192.30" y="243.0" width="2.4" height="5.2" fill="#f7525f"/>
<rect x="195.10" y="237.5" width="2.4" height="10.7" fill="#22ab94"/>
<rect x="197.91" y="220.6" width="2.4" height="16.8" fill="#22ab94"/>
<rect x="200.71" y="204.2" width="2.4" height="16.5" fill="#22ab94"/>
<rect x="203.52" y="173.9" width="2.4" height="30.2" fill="#22ab94"/>
<rect x="206.32" y="152.4" width="2.4" height="21.5" fill="#22ab94"/>
<rect x="209.13" y="152.4" width="2.4" height="1.0" fill="#f7525f"/>
<rect x="211.93" y="144.3" width="2.4" height="9.1" fill="#22ab94"/>
<rect x="214.74" y="126.9" width="2.4" height="17.4" fill="#22ab94"/>
<rect x="217.54" y="126.9" width="2.4" height="9.7" fill="#f7525f"/>
<rect x="220.35" y="123.5" width="2.4" height="13.1" fill="#22ab94"/>
<rect x="223.15" y="123.5" width="2.4" height="16.4" fill="#f7525f"/>
<rect x="225.95" y="139.8" width="2.4" height="6.4" fill="#f7525f"/>
<rect x="228.76" y="146.3" width="2.4" height="4.7" fill="#f7525f"/>
<rect x="231.56" y="150.9" width="2.4" height="1.0" fill="#f7525f"/>
<rect x="234.37" y="151.0" width="2.4" height="9.4" fill="#f7525f"/>
<rect x="237.17" y="160.4" width="2.4" height="26.9" fill="#f7525f"/>
<rect x="239.98" y="169.3" width="2.4" height="18.0" fill="#22ab94"/>
<rect x="242.78" y="153.4" width="2.4" height="15.9" fill="#22ab94"/>
<rect x="245.59" y="148.2" width="2.4" height="5.2" fill="#22ab94"/>
<rect x="248.39" y="148.2" width="2.4" height="17.9" fill="#f7525f"/>
<rect x="251.19" y="166.1" width="2.4" height="60.6" fill="#f7525f"/>
<rect x="254.00" y="216.0" width="2.4" height="10.7" fill="#22ab94"/>
<rect x="256.80" y="216.0" width="2.4" height="31.5" fill="#f7525f"/>
<rect x="259.61" y="247.4" width="2.4" height="6.1" fill="#f7525f"/>
<rect x="262.41" y="253.6" width="2.4" height="8.3" fill="#f7525f"/>
<rect x="265.22" y="261.8" width="2.4" height="3.6" fill="#f7525f"/>
<rect x="268.02" y="265.4" width="2.4" height="2.8" fill="#f7525f"/>
<rect x="270.83" y="264.3" width="2.4" height="3.9" fill="#22ab94"/>
<rect x="273.63" y="260.2" width="2.4" height="4.1" fill="#22ab94"/>
<rect x="276.43" y="260.2" width="2.4" height="1.6" fill="#f7525f"/>
<rect x="279.24" y="255.5" width="2.4" height="6.3" fill="#22ab94"/>
<rect x="282.04" y="255.5" width="2.4" height="1.5" fill="#f7525f"/>
<rect x="284.85" y="250.1" width="2.4" height="6.9" fill="#22ab94"/>
<rect x="287.65" y="250.1" width="2.4" height="6.5" fill="#f7525f"/>
<rect x="290.46" y="256.7" width="2.4" height="3.0" fill="#f7525f"/>
<rect x="293.26" y="255.1" width="2.4" height="4.6" fill="#22ab94"/>
<rect x="296.07" y="255.1" width="2.4" height="14.8" fill="#f7525f"/>
<rect x="298.87" y="269.9" width="2.4" height="3.4" fill="#f7525f"/>
<rect x="301.68" y="271.6" width="2.4" height="1.7" fill="#22ab94"/>
<rect x="304.48" y="271.6" width="2.4" height="3.2" fill="#f7525f"/>
<rect x="307.28" y="274.8" width="2.4" height="7.6" fill="#f7525f"/>
<rect x="310.09" y="282.4" width="2.4" height="1.7" fill="#f7525f"/>
<rect x="312.89" y="284.0" width="2.4" height="38.0" fill="#f7525f"/>
<rect x="315.70" y="322.1" width="2.4" height="1.9" fill="#f7525f"/>
<rect x="318.50" y="322.2" width="2.4" height="1.7" fill="#22ab94"/>
<rect x="321.31" y="322.2" width="2.4" height="2.3" fill="#f7525f"/>
<rect x="324.11" y="324.5" width="2.4" height="6.7" fill="#f7525f"/>
<rect x="326.92" y="327.4" width="2.4" height="3.8" fill="#22ab94"/>
<rect x="329.72" y="294.3" width="2.4" height="33.1" fill="#22ab94"/>
<rect x="332.52" y="294.3" width="2.4" height="26.2" fill="#f7525f"/>
<rect x="335.33" y="310.0" width="2.4" height="10.5" fill="#22ab94"/>
<rect x="338.13" y="287.2" width="2.4" height="22.7" fill="#22ab94"/>
<rect x="340.94" y="283.9" width="2.4" height="3.4" fill="#22ab94"/>
<rect x="343.74" y="283.9" width="2.4" height="17.3" fill="#f7525f"/>
<rect x="346.55" y="301.1" width="2.4" height="17.4" fill="#f7525f"/>
<rect x="349.35" y="318.6" width="2.4" height="19.9" fill="#f7525f"/>
<rect x="352.16" y="338.5" width="2.4" height="20.3" fill="#f7525f"/>
<rect x="354.96" y="358.8" width="2.4" height="4.7" fill="#f7525f"/>
<rect x="357.76" y="358.6" width="2.4" height="4.9" fill="#22ab94"/>
<rect x="360.57" y="357.4" width="2.4" height="1.2" fill="#22ab94"/>
<rect x="363.37" y="349.0" width="2.4" height="8.4" fill="#22ab94"/>
<rect x="366.18" y="346.4" width="2.4" height="2.7" fill="#22ab94"/>
<rect x="368.98" y="346.4" width="2.4" height="8.9" fill="#f7525f"/>
<rect x="371.79" y="345.0" width="2.4" height="10.3" fill="#22ab94"/>
<rect x="374.59" y="342.2" width="2.4" height="2.8" fill="#22ab94"/>
<rect x="377.40" y="329.0" width="2.4" height="13.2" fill="#22ab94"/>
<rect x="380.20" y="329.0" width="2.4" height="10.0" fill="#f7525f"/>
<rect x="383.01" y="339.0" width="2.4" height="5.2" fill="#f7525f"/>
<rect x="385.81" y="341.7" width="2.4" height="2.6" fill="#22ab94"/>
<rect x="388.61" y="338.2" width="2.4" height="3.5" fill="#22ab94"/>
<rect x="391.42" y="327.8" width="2.4" height="10.4" fill="#22ab94"/>
<rect x="394.22" y="320.0" width="2.4" height="7.8" fill="#22ab94"/>
<rect x="397.03" y="319.2" width="2.4" height="1.0" fill="#22ab94"/>
<rect x="399.83" y="319.2" width="2.4" height="5.9" fill="#f7525f"/>
<rect x="402.64" y="325.1" width="2.4" height="17.8" fill="#f7525f"/>
<rect x="405.44" y="342.9" width="2.4" height="7.2" fill="#f7525f"/>
<rect x="408.25" y="350.1" width="2.4" height="4.0" fill="#f7525f"/>
<rect x="411.05" y="350.2" width="2.4" height="3.9" fill="#22ab94"/>
<rect x="413.85" y="340.9" width="2.4" height="9.2" fill="#22ab94"/>
<rect x="416.66" y="340.9" width="2.4" height="5.8" fill="#f7525f"/>
<rect x="419.46" y="346.7" width="2.4" height="18.6" fill="#f7525f"/>
<rect x="422.27" y="363.5" width="2.4" height="1.9" fill="#22ab94"/>
<rect x="425.07" y="363.5" width="2.4" height="5.2" fill="#f7525f"/>
<rect x="427.88" y="368.6" width="2.4" height="26.4" fill="#f7525f"/>
<rect x="430.68" y="395.0" width="2.4" height="1.6" fill="#f7525f"/>
<rect x="433.49" y="392.6" width="2.4" height="4.0" fill="#22ab94"/>
<rect x="436.29" y="371.1" width="2.4" height="21.5" fill="#22ab94"/>
<rect x="439.09" y="368.3" width="2.4" height="2.8" fill="#22ab94"/>
<rect x="441.90" y="368.3" width="2.4" height="2.4" fill="#f7525f"/>
<rect x="444.70" y="361.3" width="2.4" height="9.3" fill="#22ab94"/>
<rect x="447.51" y="361.3" width="2.4" height="1.5" fill="#f7525f"/>
<rect x="450.31" y="362.8" width="2.4" height="4.4" fill="#f7525f"/>
<rect x="453.12" y="367.2" width="2.4" height="4.7" fill="#f7525f"/>
<rect x="455.92" y="371.9" width="2.4" height="1.1" fill="#f7525f"/>
<rect x="458.73" y="372.4" width="2.4" height="1.0" fill="#22ab94"/>
<rect x="461.53" y="370.1" width="2.4" height="2.3" fill="#22ab94"/>
<rect x="464.34" y="366.6" width="2.4" height="3.5" fill="#22ab94"/>
<rect x="467.14" y="360.2" width="2.4" height="6.4" fill="#22ab94"/>
<rect x="469.94" y="349.8" width="2.4" height="10.4" fill="#22ab94"/>
<rect x="472.75" y="335.7" width="2.4" height="14.1" fill="#22ab94"/>
<rect x="475.55" y="328.1" width="2.4" height="7.6" fill="#22ab94"/>
<rect x="478.36" y="327.2" width="2.4" height="1.0" fill="#22ab94"/>
<rect x="481.16" y="327.2" width="2.4" height="2.8" fill="#f7525f"/>
<rect x="483.97" y="330.0" width="2.4" height="1.4" fill="#f7525f"/>
<rect x="486.77" y="331.3" width="2.4" height="2.8" fill="#f7525f"/>
<rect x="489.58" y="330.8" width="2.4" height="3.3" fill="#22ab94"/>
<rect x="492.38" y="330.8" width="2.4" height="1.0" fill="#f7525f"/>
<rect x="495.18" y="331.8" width="2.4" height="6.5" fill="#f7525f"/>
<rect x="497.99" y="335.2" width="2.4" height="3.1" fill="#22ab94"/>
<rect x="500.79" y="334.9" width="2.4" height="1.0" fill="#22ab94"/>
<rect x="503.60" y="334.9" width="2.4" height="4.2" fill="#f7525f"/>
<rect x="506.40" y="339.1" width="2.4" height="5.6" fill="#f7525f"/>
<rect x="509.21" y="344.7" width="2.4" height="3.5" fill="#f7525f"/>
<rect x="512.01" y="348.2" width="2.4" height="1.0" fill="#f7525f"/>
<rect x="514.82" y="345.3" width="2.4" height="3.9" fill="#22ab94"/>
<rect x="517.62" y="311.6" width="2.4" height="33.7" fill="#22ab94"/>
<rect x="520.42" y="309.8" width="2.4" height="1.9" fill="#22ab94"/>
<rect x="523.23" y="286.5" width="2.4" height="23.2" fill="#22ab94"/>
<rect x="526.03" y="286.5" width="2.4" height="4.0" fill="#f7525f"/>
<rect x="528.84" y="287.5" width="2.4" height="3.1" fill="#22ab94"/>
<rect x="531.64" y="285.9" width="2.4" height="1.6" fill="#22ab94"/>
<rect x="534.45" y="285.9" width="2.4" height="11.2" fill="#f7525f"/>
<rect x="537.25" y="297.1" width="2.4" height="15.8" fill="#f7525f"/>
<rect x="540.06" y="312.9" width="2.4" height="4.4" fill="#f7525f"/>
<rect x="542.86" y="317.2" width="2.4" height="3.7" fill="#f7525f"/>
<rect x="545.66" y="315.5" width="2.4" height="5.4" fill="#22ab94"/>
<rect x="548.47" y="314.0" width="2.4" height="1.5" fill="#22ab94"/>
<rect x="551.27" y="314.0" width="2.4" height="5.5" fill="#f7525f"/>
<rect x="554.08" y="303.0" width="2.4" height="16.5" fill="#22ab94"/>
<rect x="556.88" y="296.6" width="2.4" height="6.4" fill="#22ab94"/>
<rect x="559.69" y="296.6" width="2.4" height="16.6" fill="#f7525f"/>
<rect x="562.49" y="313.2" width="2.4" height="5.9" fill="#f7525f"/>
<rect x="565.30" y="318.5" width="2.4" height="1.0" fill="#22ab94"/>
<rect x="568.10" y="314.0" width="2.4" height="4.5" fill="#22ab94"/>
<rect x="570.91" y="314.0" width="2.4" height="1.0" fill="#22ab94"/>
<rect x="573.71" y="314.0" width="2.4" height="3.7" fill="#f7525f"/>
<rect x="576.51" y="317.7" width="2.4" height="5.9" fill="#f7525f"/>
<rect x="579.32" y="323.5" width="2.4" height="23.9" fill="#f7525f"/>
<rect x="582.12" y="346.5" width="2.4" height="1.0" fill="#22ab94"/>
<rect x="584.93" y="345.1" width="2.4" height="1.4" fill="#22ab94"/>
<rect x="587.73" y="344.6" width="2.4" height="1.0" fill="#22ab94"/>
<rect x="590.54" y="344.1" width="2.4" height="1.0" fill="#22ab94"/>
<rect x="593.34" y="344.1" width="2.4" height="5.7" fill="#f7525f"/>
<rect x="596.15" y="349.8" width="2.4" height="9.0" fill="#f7525f"/>
<rect x="598.95" y="358.8" width="2.4" height="1.7" fill="#f7525f"/>
<rect x="601.75" y="347.6" width="2.4" height="12.9" fill="#22ab94"/>
<rect x="604.56" y="347.6" width="2.4" height="1.8" fill="#f7525f"/>
<rect x="607.36" y="340.5" width="2.4" height="8.9" fill="#22ab94"/>
<rect x="610.17" y="321.7" width="2.4" height="18.8" fill="#22ab94"/>
<rect x="612.97" y="321.7" width="2.4" height="5.9" fill="#f7525f"/>
<rect x="615.78" y="327.6" width="2.4" height="19.2" fill="#f7525f"/>
<rect x="618.58" y="346.8" width="2.4" height="13.1" fill="#f7525f"/>
<rect x="621.39" y="358.6" width="2.4" height="1.4" fill="#22ab94"/>
<rect x="624.19" y="355.5" width="2.4" height="3.0" fill="#22ab94"/>
<rect x="626.99" y="353.1" width="2.4" height="2.4" fill="#22ab94"/>
<rect x="629.80" y="353.1" width="2.4" height="7.7" fill="#f7525f"/>
<rect x="632.60" y="360.8" width="2.4" height="1.0" fill="#f7525f"/>
<rect x="635.41" y="361.1" width="2.4" height="2.2" fill="#f7525f"/>
<rect x="638.21" y="363.3" width="2.4" height="5.1" fill="#f7525f"/>
<rect x="641.02" y="368.4" width="2.4" height="8.3" fill="#f7525f"/>
<rect x="643.82" y="376.7" width="2.4" height="8.1" fill="#f7525f"/>
<rect x="646.63" y="367.9" width="2.4" height="17.0" fill="#22ab94"/>
<rect x="649.43" y="357.8" width="2.4" height="10.1" fill="#22ab94"/>
<rect x="652.24" y="357.8" width="2.4" height="3.4" fill="#f7525f"/>
<rect x="655.04" y="361.2" width="2.4" height="1.4" fill="#f7525f"/>
<rect x="657.84" y="361.6" width="2.4" height="1.0" fill="#22ab94"/>
<rect x="660.65" y="357.1" width="2.4" height="4.5" fill="#22ab94"/>
<rect x="663.45" y="353.3" width="2.4" height="3.8" fill="#22ab94"/>
<rect x="666.26" y="353.3" width="2.4" height="2.1" fill="#f7525f"/>
<rect x="669.06" y="355.4" width="2.4" height="8.1" fill="#f7525f"/>
<rect x="671.87" y="360.3" width="2.4" height="3.2" fill="#22ab94"/>
<rect x="674.67" y="355.7" width="2.4" height="4.7" fill="#22ab94"/>
<rect x="677.48" y="355.7" width="2.4" height="2.1" fill="#f7525f"/>
<rect x="680.28" y="356.1" width="2.4" height="1.6" fill="#22ab94"/>
<rect x="683.08" y="354.0" width="2.4" height="2.1" fill="#22ab94"/>
<rect x="685.89" y="351.8" width="2.4" height="2.2" fill="#22ab94"/>
<rect x="688.69" y="346.2" width="2.4" height="5.6" fill="#22ab94"/>
<rect x="691.50" y="337.8" width="2.4" height="8.4" fill="#22ab94"/>
<rect x="694.30" y="325.2" width="2.4" height="12.6" fill="#22ab94"/>
<rect x="697.11" y="320.8" width="2.4" height="4.4" fill="#22ab94"/>
<rect x="699.91" y="320.8" width="2.4" height="1.0" fill="#f7525f"/>
<rect x="702.72" y="314.9" width="2.4" height="6.8" fill="#22ab94"/>
<rect x="705.52" y="307.5" width="2.4" height="7.5" fill="#22ab94"/>
<rect x="708.32" y="301.9" width="2.4" height="5.5" fill="#22ab94"/>
<rect x="711.13" y="294.3" width="2.4" height="7.6" fill="#22ab94"/>
<rect x="713.93" y="283.1" width="2.4" height="11.3" fill="#22ab94"/>
<rect x="716.74" y="274.9" width="2.4" height="8.2" fill="#22ab94"/>
<rect x="719.54" y="273.2" width="2.4" height="1.6" fill="#22ab94"/>
<rect x="722.35" y="249.2" width="2.4" height="24.0" fill="#22ab94"/>
<rect x="725.15" y="243.8" width="2.4" height="5.4" fill="#22ab94"/>
<rect x="727.96" y="243.8" width="2.4" height="3.4" fill="#f7525f"/>
<rect x="730.76" y="247.2" width="2.4" height="12.4" fill="#f7525f"/>
<rect x="733.57" y="259.6" width="2.4" height="12.8" fill="#f7525f"/>
<rect x="736.37" y="266.9" width="2.4" height="5.6" fill="#22ab94"/>
<rect x="739.17" y="264.4" width="2.4" height="2.5" fill="#22ab94"/>
<rect x="741.98" y="256.6" width="2.4" height="7.8" fill="#22ab94"/>
<rect x="744.78" y="256.6" width="2.4" height="6.8" fill="#f7525f"/>
<rect x="747.59" y="263.4" width="2.4" height="9.9" fill="#f7525f"/>
<rect x="750.39" y="273.3" width="2.4" height="6.6" fill="#f7525f"/>
<rect x="753.20" y="279.9" width="2.4" height="11.1" fill="#f7525f"/>
<rect x="756.00" y="291.0" width="2.4" height="11.2" fill="#f7525f"/>
<rect x="758.81" y="302.2" width="2.4" height="9.6" fill="#f7525f"/>
<rect x="761.61" y="308.2" width="2.4" height="3.6" fill="#22ab94"/>
<rect x="764.41" y="299.2" width="2.4" height="9.0" fill="#22ab94"/>
<rect x="767.22" y="294.2" width="2.4" height="5.0" fill="#22ab94"/>
<rect x="770.02" y="292.2" width="2.4" height="2.0" fill="#22ab94"/>
<rect x="772.83" y="273.9" width="2.4" height="18.3" fill="#22ab94"/>
<rect x="775.63" y="248.0" width="2.4" height="26.0" fill="#22ab94"/>
<rect x="778.44" y="204.1" width="2.4" height="43.9" fill="#22ab94"/>
<rect x="781.24" y="204.1" width="2.4" height="15.5" fill="#f7525f"/>
<rect x="784.05" y="195.5" width="2.4" height="24.2" fill="#22ab94"/>
<rect x="786.85" y="169.5" width="2.4" height="26.0" fill="#22ab94"/>
<rect x="789.65" y="169.5" width="2.4" height="30.0" fill="#f7525f"/>
<rect x="792.46" y="199.5" width="2.4" height="11.3" fill="#f7525f"/>
<rect x="795.26" y="205.1" width="2.4" height="5.8" fill="#22ab94"/>
<rect x="798.07" y="192.1" width="2.4" height="12.9" fill="#22ab94"/>
<rect x="800.87" y="160.3" width="2.4" height="31.8" fill="#22ab94"/>
<rect x="803.68" y="139.2" width="2.4" height="21.1" fill="#22ab94"/>
<rect x="806.48" y="139.2" width="2.4" height="34.4" fill="#f7525f"/>
<rect x="809.29" y="126.1" width="2.4" height="47.5" fill="#22ab94"/>
<rect x="812.09" y="126.1" width="2.4" height="26.8" fill="#f7525f"/>
<rect x="814.90" y="119.3" width="2.4" height="33.5" fill="#22ab94"/>
<rect x="817.70" y="119.3" width="2.4" height="6.4" fill="#f7525f"/>
<rect x="820.50" y="125.7" width="2.4" height="23.5" fill="#f7525f"/>
<rect x="823.31" y="149.2" width="2.4" height="29.4" fill="#f7525f"/>
<rect x="826.11" y="160.6" width="2.4" height="17.9" fill="#22ab94"/>
<rect x="828.92" y="160.6" width="2.4" height="12.0" fill="#f7525f"/>
<rect x="831.72" y="147.2" width="2.4" height="25.4" fill="#22ab94"/>
<rect x="834.53" y="147.2" width="2.4" height="26.1" fill="#f7525f"/>
<rect x="837.33" y="173.3" width="2.4" height="4.5" fill="#f7525f"/>
<rect x="840.14" y="177.8" width="2.4" height="1.6" fill="#f7525f"/>
<rect x="842.94" y="179.4" width="2.4" height="8.5" fill="#f7525f"/>
<rect x="845.74" y="182.8" width="2.4" height="5.1" fill="#22ab94"/>
<rect x="848.55" y="175.0" width="2.4" height="7.8" fill="#22ab94"/>
<rect x="851.35" y="175.0" width="2.4" height="11.6" fill="#f7525f"/>
<rect x="854.16" y="186.7" width="2.4" height="10.7" fill="#f7525f"/>
<rect x="856.96" y="197.4" width="2.4" height="1.5" fill="#f7525f"/>
<rect x="859.77" y="197.0" width="2.4" height="1.9" fill="#22ab94"/>
<rect x="862.57" y="185.9" width="2.4" height="11.1" fill="#22ab94"/>
<rect x="865.38" y="178.4" width="2.4" height="7.5" fill="#22ab94"/>
<rect x="868.18" y="170.3" width="2.4" height="8.1" fill="#22ab94"/>
<rect x="870.98" y="160.8" width="2.4" height="9.5" fill="#22ab94"/>
<rect x="873.79" y="149.7" width="2.4" height="11.1" fill="#22ab94"/>
<rect x="876.59" y="149.7" width="2.4" height="6.0" fill="#f7525f"/>
<rect x="879.40" y="155.7" width="2.4" height="8.2" fill="#f7525f"/>
<rect x="882.20" y="163.9" width="2.4" height="6.0" fill="#f7525f"/>
<rect x="885.01" y="169.8" width="2.4" height="5.7" fill="#f7525f"/>
<rect x="887.81" y="169.8" width="2.4" height="5.7" fill="#22ab94"/>
<rect x="890.62" y="159.3" width="2.4" height="10.5" fill="#22ab94"/>
<rect x="893.42" y="159.3" width="2.4" height="20.2" fill="#f7525f"/>
<rect x="896.23" y="179.5" width="2.4" height="4.5" fill="#f7525f"/>
<rect x="899.03" y="184.0" width="2.4" height="7.0" fill="#f7525f"/>
<rect x="901.83" y="191.0" width="2.4" height="18.0" fill="#f7525f"/>
<rect x="904.64" y="209.0" width="2.4" height="21.0" fill="#f7525f"/>
<rect x="907.44" y="228.0" width="2.4" height="2.0" fill="#22ab94"/>
<rect x="910.25" y="228.0" width="2.4" height="8.4" fill="#f7525f"/>
<rect x="913.05" y="218.0" width="2.4" height="18.4" fill="#22ab94"/>
<rect x="915.86" y="218.0" width="2.4" height="4.7" fill="#f7525f"/>
<rect x="918.66" y="209.0" width="2.4" height="13.7" fill="#22ab94"/>
<rect x="921.47" y="208.0" width="2.4" height="1.0" fill="#22ab94"/>
<rect x="924.27" y="208.0" width="2.4" height="8.0" fill="#f7525f"/>
<rect x="927.07" y="193.0" width="2.4" height="23.0" fill="#22ab94"/>
<rect x="929.88" y="189.8" width="2.4" height="3.2" fill="#22ab94"/>
<rect x="932.68" y="189.8" width="2.4" height="10.2" fill="#f7525f"/>
<rect x="935.49" y="200.0" width="2.4" height="3.4" fill="#f7525f"/>
<rect x="938.29" y="191.0" width="2.4" height="12.4" fill="#22ab94"/>
<rect x="941.10" y="177.3" width="2.4" height="13.7" fill="#22ab94"/>
<rect x="943.90" y="177.3" width="2.4" height="28.4" fill="#f7525f"/>
<rect x="946.71" y="192.0" width="2.4" height="13.7" fill="#22ab94"/>
<rect x="949.51" y="192.0" width="2.4" height="14.8" fill="#f7525f"/>
<rect x="952.31" y="206.8" width="2.4" height="79.5" fill="#f7525f"/>
<rect x="955.12" y="256.8" width="2.4" height="29.5" fill="#22ab94"/>
<rect x="957.92" y="241.0" width="2.4" height="15.8" fill="#22ab94"/>
<rect x="960.73" y="241.0" width="2.4" height="13.5" fill="#f7525f"/>
<rect x="963.53" y="254.5" width="2.4" height="13.5" fill="#f7525f"/>
<rect x="966.34" y="268.0" width="2.4" height="9.0" fill="#f7525f"/>
<rect x="969.14" y="277.0" width="2.4" height="20.7" fill="#f7525f"/>
<rect x="971.95" y="295.0" width="2.4" height="2.7" fill="#22ab94"/>
<rect x="974.75" y="286.4" width="2.4" height="8.6" fill="#22ab94"/>
<rect x="977.56" y="277.0" width="2.4" height="9.4" fill="#22ab94"/>
<rect x="980.36" y="259.0" width="2.4" height="18.0" fill="#22ab94"/>
<rect x="983.16" y="259.0" width="2.4" height="18.0" fill="#f7525f"/>
<rect x="985.97" y="277.0" width="2.4" height="9.4" fill="#f7525f"/>
<rect x="988.77" y="282.0" width="2.4" height="4.4" fill="#22ab94"/>
<rect x="991.58" y="277.0" width="2.4" height="5.0" fill="#22ab94"/>
<rect x="994.38" y="266.0" width="2.4" height="11.0" fill="#22ab94"/>
<rect x="997.19" y="261.4" width="2.4" height="4.6" fill="#22ab94"/>
<rect x="999.99" y="261.4" width="2.4" height="11.3" fill="#f7525f"/>
<rect x="1002.80" y="272.7" width="2.4" height="4.3" fill="#f7525f"/>
<rect x="1005.60" y="271.8" width="2.4" height="5.2" fill="#22ab94"/>
</g>
<path d="M5.6,392.0 C7.9,391.0 14.2,387.6 19.3,386.0 C24.4,384.4 31.4,383.9 36.2,382.5 C41.0,381.1 44.3,380.1 48.3,377.7 C52.3,375.3 56.4,371.6 60.4,368.0 C64.4,364.4 68.4,361.2 72.5,356.0 C76.6,350.8 81.6,342.3 85.0,336.6 C88.4,330.9 90.5,326.4 93.0,322.0 C95.5,317.6 96.8,315.3 100.0,310.0 C103.2,304.7 108.3,296.8 112.5,290.0 C116.7,283.2 120.8,276.3 125.0,269.0 C129.2,261.7 133.3,253.2 137.5,246.0 C141.7,238.8 145.8,231.8 150.0,226.0 C154.2,220.2 158.3,215.3 162.5,211.0 C166.7,206.7 170.8,203.2 175.0,200.0 C179.2,196.8 183.3,194.4 187.5,192.0 C191.7,189.6 195.8,187.6 200.0,185.5 C204.2,183.4 208.3,181.2 212.5,179.5 C216.7,177.8 219.8,175.9 225.0,175.0 C230.2,174.1 239.1,172.6 243.8,174.0 C248.4,175.4 248.3,179.5 253.0,183.4 C257.7,187.3 266.1,193.9 271.9,197.5 C277.6,201.1 282.3,202.9 287.5,205.0 C292.7,207.1 298.8,207.7 303.0,210.0 C307.2,212.3 308.8,215.8 312.5,219.0 C316.2,222.2 319.6,225.3 325.0,229.0 C330.4,232.7 338.8,235.4 344.8,241.0 C350.8,246.6 356.1,255.2 361.0,262.4 C365.9,269.6 370.0,277.7 374.5,284.0 C379.0,290.3 383.5,295.9 388.0,300.2 C392.5,304.5 397.0,306.9 401.5,309.6 C406.0,312.3 410.5,313.5 415.0,316.4 C419.5,319.3 424.2,323.6 428.4,327.2 C432.6,330.8 435.3,335.0 440.0,338.0 C444.7,341.0 451.4,343.0 456.6,345.0 C461.8,347.0 465.9,348.4 471.0,350.0 C476.1,351.6 481.3,354.1 487.0,354.4 C492.7,354.6 499.7,352.1 505.0,351.5 C510.3,350.9 513.8,351.5 518.7,350.5 C523.6,349.5 530.3,346.5 534.6,345.5 C538.9,344.5 539.6,345.8 544.6,344.5 C549.6,343.2 558.9,339.6 564.5,337.5 C570.1,335.4 573.4,332.9 578.4,331.6 C583.4,330.3 588.8,330.4 594.3,329.6 C599.8,328.8 605.6,326.4 611.6,326.6 C617.6,326.8 624.2,329.7 630.5,330.8 C636.8,331.9 643.5,332.1 649.4,333.5 C655.2,334.9 660.2,337.2 665.6,339.0 C671.0,340.8 677.3,342.7 681.8,344.0 C686.3,345.3 687.9,346.5 692.6,347.0 C697.3,347.5 703.1,349.0 710.0,347.0 C716.9,345.0 726.5,338.5 734.0,335.0 C741.5,331.5 748.1,329.2 755.0,326.0 C761.9,322.8 770.2,319.3 775.3,316.0 C780.4,312.7 781.8,310.7 785.6,306.0 C789.5,301.3 794.1,294.4 798.4,288.0 C802.7,281.6 806.9,273.8 811.2,267.4 C815.5,261.0 819.8,255.2 824.0,249.5 C828.2,243.8 832.5,237.7 836.7,233.0 C841.0,228.3 845.2,224.6 849.5,221.4 C853.8,218.2 858.9,215.6 862.3,213.7 C865.7,211.8 866.6,212.6 870.0,210.0 C873.4,207.4 877.4,202.7 882.8,198.4 C888.2,194.2 897.2,187.9 902.4,184.5 C907.6,181.1 909.5,179.1 913.8,178.0 C918.0,176.9 923.3,178.0 928.0,178.0 C932.7,178.0 938.0,177.0 942.0,178.0 C946.0,179.0 948.5,181.6 951.7,184.0 C954.9,186.4 957.8,189.8 961.4,192.6 C965.0,195.4 969.9,198.4 973.5,201.0 C977.1,203.6 979.4,205.7 983.0,208.3 C986.6,210.9 991.2,214.2 995.2,216.8 C999.2,219.4 1005.3,222.8 1007.3,224.0" fill="none" stroke="#f23645" stroke-width="2.7" stroke-linejoin="round" stroke-linecap="round"/>
<path d="M5.6,391.0 C8.0,388.5 15.9,379.5 20.0,376.0 C24.1,372.5 26.7,372.5 30.0,370.0 C33.3,367.5 36.7,364.5 40.0,361.0 C43.3,357.5 46.7,354.5 50.0,349.0 C53.3,343.5 56.7,334.5 60.0,328.0 C63.3,321.5 67.5,315.2 70.0,310.0 C72.5,304.8 72.1,307.0 75.0,297.0 C77.9,287.0 84.2,261.8 87.5,250.0 C90.8,238.2 92.5,232.0 95.0,226.0 C97.5,220.0 100.0,221.5 102.5,214.0 C105.0,206.5 107.1,190.7 110.0,181.0 C112.9,171.3 117.2,159.5 120.0,156.0 C122.8,152.5 124.5,158.2 127.0,160.0 C129.5,161.8 132.4,166.0 135.0,166.6 C137.6,167.2 139.7,161.6 142.8,163.4 C145.9,165.2 150.4,173.1 153.8,177.5 C157.1,181.9 159.4,188.7 163.0,190.0 C166.6,191.3 171.9,183.7 175.6,185.3 C179.3,186.9 180.9,195.1 185.0,199.4 C189.1,203.7 195.9,211.3 200.0,211.0 C204.1,210.7 206.2,202.7 209.8,197.4 C213.4,192.2 217.8,184.0 221.8,179.5 C225.8,175.0 229.7,172.4 233.7,170.5 C237.7,168.6 242.1,166.6 245.6,168.1 C249.1,169.6 250.6,172.6 254.6,179.5 C258.6,186.4 264.5,200.9 269.5,209.3 C274.5,217.8 279.4,224.2 284.4,230.2 C289.4,236.1 294.3,239.5 299.3,245.0 C304.3,250.5 309.3,256.0 314.2,263.0 C319.1,270.0 324.9,281.6 328.6,287.0 C332.4,292.4 334.0,293.8 336.7,295.5 C339.4,297.2 341.8,295.2 344.8,297.5 C347.9,299.8 351.6,304.4 355.0,309.0 C358.4,313.6 361.7,321.2 365.0,325.0 C368.3,328.8 371.2,330.5 375.0,332.0 C378.8,333.5 383.6,334.2 388.0,334.0 C392.4,333.8 397.3,330.8 401.5,331.0 C405.7,331.2 409.1,332.6 413.0,335.0 C416.9,337.4 421.0,341.5 425.0,345.5 C429.0,349.5 433.3,356.2 437.0,359.0 C440.7,361.8 443.0,360.7 447.0,362.0 C451.0,363.3 457.0,366.8 461.0,367.0 C465.0,367.2 467.9,365.7 471.0,363.5 C474.1,361.3 477.2,356.0 479.5,354.0 C481.8,352.0 482.4,352.8 485.0,351.5 C487.6,350.2 491.7,347.8 495.0,346.5 C498.3,345.2 501.4,343.7 505.0,343.5 C508.6,343.3 514.0,346.2 516.7,345.5 C519.4,344.8 519.3,342.8 521.4,339.5 C523.5,336.2 526.7,329.1 529.4,325.6 C532.1,322.1 534.1,320.1 537.4,318.6 C540.7,317.1 545.3,317.4 549.3,316.7 C553.3,316.0 556.6,314.7 561.2,314.7 C565.8,314.7 573.0,315.2 577.0,316.7 C581.0,318.2 581.0,320.6 585.0,323.6 C589.0,326.7 596.4,332.9 600.8,335.0 C605.2,337.1 608.0,334.9 611.6,336.0 C615.2,337.1 618.8,339.7 622.4,341.5 C626.0,343.3 629.0,344.5 633.0,347.0 C637.0,349.5 642.2,354.7 646.7,356.5 C651.2,358.3 655.1,357.4 660.0,357.6 C664.9,357.8 671.0,357.8 676.0,357.6 C681.0,357.4 686.0,358.3 690.0,356.5 C694.0,354.7 696.7,350.4 700.0,347.0 C703.3,343.6 706.7,340.8 710.0,336.0 C713.3,331.2 716.7,324.6 720.0,318.5 C723.3,312.4 726.7,304.4 730.0,299.5 C733.3,294.6 736.7,291.5 740.0,289.0 C743.3,286.5 746.7,284.6 750.0,284.5 C753.3,284.4 757.0,287.3 760.0,288.5 C763.0,289.7 765.6,291.4 767.7,291.7 C769.8,292.0 770.7,294.0 772.8,290.4 C774.9,286.8 777.5,276.8 780.5,270.0 C783.5,263.2 787.3,255.9 790.7,249.5 C794.1,243.1 797.5,239.3 800.9,231.6 C804.3,223.9 807.8,212.0 811.2,203.5 C814.6,195.0 817.6,185.2 821.4,180.5 C825.2,175.8 829.5,175.5 834.2,175.3 C838.9,175.1 844.8,177.7 849.5,179.2 C854.2,180.7 858.5,184.5 862.3,184.3 C866.1,184.1 869.1,179.6 872.5,177.9 C875.9,176.2 878.3,174.5 882.8,174.0 C887.3,173.5 894.3,172.0 899.5,175.0 C904.7,178.0 909.0,188.2 913.8,192.0 C918.5,195.8 923.3,197.1 928.0,198.0 C932.7,198.9 938.0,196.7 942.0,197.4 C946.0,198.1 949.3,199.3 951.7,202.3 C954.1,205.3 954.6,211.8 956.6,215.6 C958.6,219.4 961.4,221.4 963.8,225.0 C966.2,228.6 968.6,233.5 971.0,237.3 C973.4,241.1 975.9,245.2 978.3,248.0 C980.7,250.8 982.8,251.8 985.6,254.0 C988.4,256.2 991.6,259.6 995.2,261.4 C998.8,263.2 1005.3,264.4 1007.3,265.0" fill="none" stroke="#2962ff" stroke-width="2.7" stroke-linejoin="round" stroke-linecap="round" stroke-opacity="0.9"/>
<line x1="816" y1="98.5" x2="1063" y2="237" stroke="#23448a" stroke-width="2.4" stroke-linecap="round"/>
<path d="M5.4,568.5 C7.7,565.8 15.8,555.4 19.4,552.3 C23.0,549.2 23.2,552.5 27.0,550.0 C30.8,547.5 36.4,539.5 42.0,537.2 C47.6,534.9 55.2,537.4 60.4,536.0 C65.6,534.6 69.1,532.0 73.4,528.6 C77.7,525.2 82.7,518.1 86.3,515.6 C89.9,513.1 91.8,513.0 95.0,513.5 C98.2,514.0 102.6,518.2 105.8,518.9 C109.0,519.6 111.5,516.7 114.4,517.8 C117.3,518.9 119.6,521.2 123.0,525.3 C126.4,529.4 131.8,539.4 135.0,542.6 C138.2,545.9 140.0,542.3 142.5,544.8 C145.0,547.3 147.2,553.0 150.0,557.7 C152.8,562.4 156.6,570.0 159.0,572.8 C161.4,575.6 161.5,574.8 164.4,574.5 C167.3,574.2 173.1,570.8 176.3,571.0 C179.6,571.2 180.5,574.7 183.9,576.0 C187.3,577.3 192.9,579.1 196.8,578.9 C200.8,578.6 204.4,575.9 207.6,574.5 C210.8,573.1 213.3,573.0 216.2,570.7 C219.1,568.5 221.7,564.3 224.9,561.0 C228.2,557.7 232.8,552.4 235.7,550.8 C238.6,549.2 239.6,550.2 242.1,551.2 C244.6,552.2 247.6,553.4 250.8,556.6 C254.1,559.9 258.0,565.8 261.6,570.7 C265.2,575.6 268.7,582.0 272.3,585.8 C275.9,589.6 280.4,591.5 283.1,593.3 C285.8,595.1 286.5,596.0 288.5,596.6 C290.5,597.2 291.5,596.8 295.0,596.6 C298.5,596.4 303.8,594.0 309.4,595.5 C315.0,597.0 324.8,603.8 328.9,605.6 C333.0,607.4 331.0,607.2 334.2,606.3 C337.4,605.4 343.8,602.0 348.3,600.4 C352.8,598.8 356.5,598.1 361.2,596.6 C365.9,595.1 372.0,592.3 376.3,591.2 C380.6,590.1 383.2,592.0 387.1,590.0 C391.1,588.0 396.4,581.0 400.0,578.9 C403.6,576.8 405.1,576.9 408.7,577.1 C412.3,577.4 417.7,578.4 421.7,580.4 C425.7,582.4 429.2,586.7 432.5,589.0 C435.8,591.3 438.2,593.6 441.5,594.0 C444.8,594.4 448.5,592.3 452.3,591.2 C456.1,590.1 459.8,591.5 464.1,587.5 C468.4,583.5 473.7,572.9 478.2,567.4 C482.7,561.9 487.2,557.6 491.1,554.5 C495.1,551.4 498.7,549.3 501.9,548.6 C505.1,547.9 508.0,549.2 510.5,550.2 C513.0,551.2 514.1,554.9 517.0,554.5 C519.9,554.1 524.6,549.7 527.8,548.0 C531.0,546.3 533.9,544.7 536.4,544.3 C538.9,543.9 539.5,546.3 542.9,545.8 C546.3,545.3 553.8,541.3 557.0,541.5 C560.2,541.7 559.6,543.8 562.3,546.9 C565.0,550.0 569.3,556.3 573.1,559.9 C576.9,563.5 581.3,565.3 585.0,568.5 C588.7,571.7 592.3,576.3 595.1,579.3 C597.9,582.2 599.4,584.8 601.6,586.2 C603.8,587.6 604.5,587.8 608.1,587.9 C611.7,588.0 618.4,587.4 623.2,586.8 C628.1,586.1 632.5,583.5 637.2,584.0 C641.9,584.5 648.0,588.9 651.2,590.0 C654.4,591.1 653.4,591.6 656.6,590.5 C659.9,589.4 666.2,586.2 670.7,583.2 C675.2,580.2 680.0,575.2 683.6,572.8 C687.2,570.3 689.0,571.5 692.2,568.5 C695.4,565.5 699.4,559.5 703.0,554.5 C706.6,549.5 710.2,543.9 713.8,538.3 C717.4,532.7 721.6,525.3 724.6,521.0 C727.6,516.7 728.5,513.9 731.5,512.4 C734.5,510.9 739.1,510.6 742.3,512.0 C745.5,513.4 748.0,516.6 750.9,521.0 C753.8,525.4 756.6,532.9 759.5,538.3 C762.4,543.7 765.7,550.2 768.2,553.4 C770.7,556.6 771.7,557.3 774.6,557.3 C777.5,557.3 781.8,556.0 785.4,553.4 C789.0,550.8 792.8,545.7 796.2,541.5 C799.6,537.3 803.2,530.7 806.0,528.0 C808.8,525.3 810.7,525.1 813.0,525.2 C815.3,525.3 816.7,526.0 820.0,528.4 C823.3,530.8 828.6,535.6 832.9,539.4 C837.2,543.2 841.6,547.4 845.9,551.2 C850.2,555.0 855.6,559.6 858.8,562.0 C862.0,564.4 862.6,564.8 865.3,565.3 C868.0,565.8 872.0,565.8 875.0,565.3 C878.0,564.8 880.6,563.0 883.0,562.5 C885.4,562.0 886.7,562.9 889.4,562.5 C892.1,562.1 895.9,559.3 899.1,560.3 C902.4,561.3 905.1,565.3 908.9,568.5 C912.7,571.7 917.8,577.2 921.8,579.7 C925.8,582.2 929.7,582.6 932.6,583.2 C935.5,583.8 936.2,584.4 939.1,583.2 C942.0,582.0 946.0,576.6 949.9,576.0 C953.8,575.4 958.8,577.3 962.8,579.3 C966.8,581.3 969.1,585.0 973.6,588.0 C978.1,591.0 985.8,596.9 989.8,597.6 C993.8,598.3 994.6,593.4 997.3,592.2 C1000.0,591.0 1004.5,590.8 1006.0,590.5" fill="none" stroke="#f8d36a" stroke-width="1.2" stroke-linejoin="round"/>
<defs><clipPath id="ob"><rect x="0" y="479" width="1084" height="40.3"/></clipPath><linearGradient id="obg" x1="0" y1="0" x2="0" y2="1"><stop offset="0" stop-color="#4caf50" stop-opacity="0.22"/><stop offset="1" stop-color="#22ab94" stop-opacity="0"/></linearGradient></defs>
<polygon points="5.4,519.3 5.4,549.0 10.8,526.4 14.0,524.0 19.0,512.0 22.7,536.0 27.6,556.6 33.5,535.0 36.3,549.0 39.5,531.8 44.7,550.0 50.7,522.0 55.7,514.0 60.0,524.0 62.2,525.0 64.3,513.5 68.6,526.4 73.4,518.4 75.5,519.3 78.8,486.0 81.6,501.6 84.2,502.7 86.8,513.5 89.6,503.3 92.4,516.3 95.4,510.2 98.9,548.6 101.0,550.0 106.2,516.3 110.0,517.0 115.5,516.7 119.8,531.8 123.0,555.5 126.3,571.7 129.0,567.4 132.0,576.0 135.0,576.7 140.0,553.4 144.2,564.2 148.2,580.4 151.0,578.2 154.7,585.8 159.7,591.2 164.0,575.0 168.3,561.0 176.3,558.1 179.1,580.4 185.0,594.0 189.2,587.5 191.4,588.0 196.4,595.5 201.5,563.0 207.2,538.7 210.8,549.0 213.6,547.0 218.8,530.7 222.3,545.8 224.4,543.7 230.9,552.3 233.5,555.5 238.2,578.2 246.4,552.3 251.8,595.5 255.0,583.2 263.3,603.0 268.0,604.8 271.3,605.8 275.6,598.3 278.8,597.6 281.4,592.2 283.1,597.6 286.4,585.8 290.7,592.2 294.7,586.2 297.6,598.7 303.4,592.7 306.2,602.0 309.0,596.0 311.2,597.6 314.2,619.2 319.1,618.6 323.5,620.3 327.8,623.5 331.4,574.5 334.2,603.0 336.4,597.6 341.8,571.7 346.5,584.7 353.2,608.4 358.6,598.3 361.7,600.9 366.6,588.4 370.3,594.0 373.1,585.3 375.9,585.8 378.9,571.0 383.2,582.5 390.4,575.0 395.3,562.0 397.9,564.2 401.2,561.0 404.4,580.4 408.3,589.6 411.3,590.5 414.8,579.3 419.1,594.4 424.9,594.4 429.9,614.9 432.0,610.6 435.0,616.0 437.6,581.9 440.4,589.0 445.8,572.4 449.0,579.3 451.8,579.7 454.9,584.7 460.5,578.9 463.1,578.2 468.5,563.7 470.6,567.4 477.1,534.4 480.3,535.0 485.7,540.0 487.9,547.0 491.1,539.4 496.5,557.7 499.8,549.5 502.3,552.3 507.3,571.7 511.0,576.0 513.8,572.4 515.9,572.4 518.1,531.4 521.3,528.6 524.6,513.5 530.4,528.6 533.2,519.9 536.0,531.8 539.7,552.3 544.0,566.3 546.2,556.6 552.6,559.9 558.0,543.0 560.6,567.4 564.1,571.0 567.1,567.4 569.9,566.8 572.1,559.4 576.4,572.8 580.7,597.6 586.5,593.3 591.9,592.2 594.7,597.6 597.7,614.3 600.5,594.4 603.3,586.8 606.3,589.0 611.3,551.2 614.5,564.2 619.3,589.0 623.2,593.3 627.9,584.7 630.7,593.3 635.7,591.2 639.4,603.0 645.2,614.9 650.1,571.7 656.6,579.7 659.4,578.2 665.3,563.1 671.1,580.4 674.5,564.2 678.9,574.5 681.4,573.2 684.7,567.4 687.9,568.0 692.2,550.2 695.5,530.7 698.3,530.0 701.3,535.0 704.1,525.8 707.3,522.1 710.6,513.5 714.9,496.2 718.1,501.6 722.9,489.7 726.8,487.6 728.9,487.6 731.9,529.6 734.7,536.6 739.7,530.7 743.3,518.9 746.6,544.8 750.9,554.5 755.2,570.7 760.0,590.0 766.0,563.1 768.6,575.0 771.4,568.5 775.7,538.3 780.0,513.5 782.2,513.5 785.9,529.6 788.7,512.0 790.8,510.2 796.7,540.9 802.7,515.6 805.3,515.6 808.1,541.5 810.7,525.3 813.9,540.4 816.7,530.7 822.1,539.4 824.7,561.0 827.5,554.5 830.8,557.7 833.4,549.5 836.2,563.1 839.4,564.2 844.1,571.0 847.0,563.1 850.2,561.6 853.4,573.2 859.3,575.0 863.1,566.3 869.2,558.8 874.7,543.0 878.2,546.9 883.4,565.3 887.3,566.3 891.6,551.2 894.8,568.0 898.1,570.7 902.4,591.2 907.8,592.2 911.4,607.8 914.2,591.8 917.1,592.2 921.4,579.7 926.1,585.8 930.0,564.6 932.6,563.1 935.8,568.5 938.6,575.0 942.3,554.5 945.5,576.0 948.1,565.3 950.9,575.0 954.2,614.9 957.4,615.5 959.6,592.2 962.8,583.6 968.2,597.6 974.0,608.4 977.9,600.4 982.2,581.4 986.6,593.3 990.4,590.5 994.1,585.3 998.4,576.7 1001.7,579.3 1004.9,585.3 1007.7,578.9 1007.7,519.3" fill="url(#obg)" clip-path="url(#ob)"/>
<polyline points="5.4,549.0 10.8,526.4 14.0,524.0 19.0,512.0 22.7,536.0 27.6,556.6 33.5,535.0 36.3,549.0 39.5,531.8 44.7,550.0 50.7,522.0 55.7,514.0 60.0,524.0 62.2,525.0 64.3,513.5 68.6,526.4 73.4,518.4 75.5,519.3 78.8,486.0 81.6,501.6 84.2,502.7 86.8,513.5 89.6,503.3 92.4,516.3 95.4,510.2 98.9,548.6 101.0,550.0 106.2,516.3 110.0,517.0 115.5,516.7 119.8,531.8 123.0,555.5 126.3,571.7 129.0,567.4 132.0,576.0 135.0,576.7 140.0,553.4 144.2,564.2 148.2,580.4 151.0,578.2 154.7,585.8 159.7,591.2 164.0,575.0 168.3,561.0 176.3,558.1 179.1,580.4 185.0,594.0 189.2,587.5 191.4,588.0 196.4,595.5 201.5,563.0 207.2,538.7 210.8,549.0 213.6,547.0 218.8,530.7 222.3,545.8 224.4,543.7 230.9,552.3 233.5,555.5 238.2,578.2 246.4,552.3 251.8,595.5 255.0,583.2 263.3,603.0 268.0,604.8 271.3,605.8 275.6,598.3 278.8,597.6 281.4,592.2 283.1,597.6 286.4,585.8 290.7,592.2 294.7,586.2 297.6,598.7 303.4,592.7 306.2,602.0 309.0,596.0 311.2,597.6 314.2,619.2 319.1,618.6 323.5,620.3 327.8,623.5 331.4,574.5 334.2,603.0 336.4,597.6 341.8,571.7 346.5,584.7 353.2,608.4 358.6,598.3 361.7,600.9 366.6,588.4 370.3,594.0 373.1,585.3 375.9,585.8 378.9,571.0 383.2,582.5 390.4,575.0 395.3,562.0 397.9,564.2 401.2,561.0 404.4,580.4 408.3,589.6 411.3,590.5 414.8,579.3 419.1,594.4 424.9,594.4 429.9,614.9 432.0,610.6 435.0,616.0 437.6,581.9 440.4,589.0 445.8,572.4 449.0,579.3 451.8,579.7 454.9,584.7 460.5,578.9 463.1,578.2 468.5,563.7 470.6,567.4 477.1,534.4 480.3,535.0 485.7,540.0 487.9,547.0 491.1,539.4 496.5,557.7 499.8,549.5 502.3,552.3 507.3,571.7 511.0,576.0 513.8,572.4 515.9,572.4 518.1,531.4 521.3,528.6 524.6,513.5 530.4,528.6 533.2,519.9 536.0,531.8 539.7,552.3 544.0,566.3 546.2,556.6 552.6,559.9 558.0,543.0 560.6,567.4 564.1,571.0 567.1,567.4 569.9,566.8 572.1,559.4 576.4,572.8 580.7,597.6 586.5,593.3 591.9,592.2 594.7,597.6 597.7,614.3 600.5,594.4 603.3,586.8 606.3,589.0 611.3,551.2 614.5,564.2 619.3,589.0 623.2,593.3 627.9,584.7 630.7,593.3 635.7,591.2 639.4,603.0 645.2,614.9 650.1,571.7 656.6,579.7 659.4,578.2 665.3,563.1 671.1,580.4 674.5,564.2 678.9,574.5 681.4,573.2 684.7,567.4 687.9,568.0 692.2,550.2 695.5,530.7 698.3,530.0 701.3,535.0 704.1,525.8 707.3,522.1 710.6,513.5 714.9,496.2 718.1,501.6 722.9,489.7 726.8,487.6 728.9,487.6 731.9,529.6 734.7,536.6 739.7,530.7 743.3,518.9 746.6,544.8 750.9,554.5 755.2,570.7 760.0,590.0 766.0,563.1 768.6,575.0 771.4,568.5 775.7,538.3 780.0,513.5 782.2,513.5 785.9,529.6 788.7,512.0 790.8,510.2 796.7,540.9 802.7,515.6 805.3,515.6 808.1,541.5 810.7,525.3 813.9,540.4 816.7,530.7 822.1,539.4 824.7,561.0 827.5,554.5 830.8,557.7 833.4,549.5 836.2,563.1 839.4,564.2 844.1,571.0 847.0,563.1 850.2,561.6 853.4,573.2 859.3,575.0 863.1,566.3 869.2,558.8 874.7,543.0 878.2,546.9 883.4,565.3 887.3,566.3 891.6,551.2 894.8,568.0 898.1,570.7 902.4,591.2 907.8,592.2 911.4,607.8 914.2,591.8 917.1,592.2 921.4,579.7 926.1,585.8 930.0,564.6 932.6,563.1 935.8,568.5 938.6,575.0 942.3,554.5 945.5,576.0 948.1,565.3 950.9,575.0 954.2,614.9 957.4,615.5 959.6,592.2 962.8,583.6 968.2,597.6 974.0,608.4 977.9,600.4 982.2,581.4 986.6,593.3 990.4,590.5 994.1,585.3 998.4,576.7 1001.7,579.3 1004.9,585.3 1007.7,578.9" fill="none" stroke="#7e57c2" stroke-width="2.2" stroke-linejoin="round"/>
<line x1="726" y1="483.2" x2="1044.4" y2="584.6" stroke="#23448a" stroke-width="2.4" stroke-linecap="round"/>
<text x="1092.2" y="65.0" font-size="11" fill="#131722" textLength="25" lengthAdjust="spacingAndGlyphs" stroke="#131722" stroke-width="0.2">30.00</text>
<text x="1092.2" y="100.6" font-size="11" fill="#131722" textLength="25" lengthAdjust="spacingAndGlyphs" stroke="#131722" stroke-width="0.2">28.00</text>
<text x="1092.2" y="136.2" font-size="11" fill="#131722" textLength="25" lengthAdjust="spacingAndGlyphs" stroke="#131722" stroke-width="0.2">26.00</text>
<text x="1092.2" y="171.8" font-size="11" fill="#131722" textLength="25" lengthAdjust="spacingAndGlyphs" stroke="#131722" stroke-width="0.2">24.00</text>
<text x="1092.2" y="207.4" font-size="11" fill="#131722" textLength="25" lengthAdjust="spacingAndGlyphs" stroke="#131722" stroke-width="0.2">22.00</text>
<text x="1092.2" y="243.0" font-size="11" fill="#131722" textLength="25" lengthAdjust="spacingAndGlyphs" stroke="#131722" stroke-width="0.2">20.00</text>
<text x="1092.2" y="314.2" font-size="11" fill="#131722" textLength="25" lengthAdjust="spacingAndGlyphs" stroke="#131722" stroke-width="0.2">16.00</text>
<text x="1092.2" y="349.8" font-size="11" fill="#131722" textLength="25" lengthAdjust="spacingAndGlyphs" stroke="#131722" stroke-width="0.2">14.00</text>
<text x="1092.2" y="385.4" font-size="11" fill="#131722" textLength="25" lengthAdjust="spacingAndGlyphs" stroke="#131722" stroke-width="0.2">12.00</text>
<text x="1092.2" y="421.0" font-size="11" fill="#131722" textLength="25" lengthAdjust="spacingAndGlyphs" stroke="#131722" stroke-width="0.2">10.00</text>
<text x="1092.2" y="456.6" font-size="11" fill="#131722" textLength="20.2" lengthAdjust="spacingAndGlyphs" stroke="#131722" stroke-width="0.2">8.00</text>
<text x="1092.2" y="498.5" font-size="11" fill="#131722" textLength="25" lengthAdjust="spacingAndGlyphs" stroke="#131722" stroke-width="0.2">80.00</text>
<text x="1092.2" y="547.9" font-size="11" fill="#131722" textLength="25" lengthAdjust="spacingAndGlyphs" stroke="#131722" stroke-width="0.2">60.00</text>
<rect x="1088" y="25" width="49" height="21.5" rx="4" fill="#fff" stroke="#ececee" stroke-width="1"/>
<text x="1095.6" y="39.6" font-size="11" fill="#131722" textLength="22.9" lengthAdjust="spacingAndGlyphs" stroke="#131722" stroke-width="0.2">USDT</text>
<text x="67.4" y="647.3" font-size="11" fill="#131722" textLength="16.3" lengthAdjust="spacingAndGlyphs" stroke="#131722" stroke-width="0.2">Dec</text>
<text x="151.1" y="647.3" font-size="11" fill="#131722" textLength="22.9" lengthAdjust="spacingAndGlyphs" stroke="#131722" stroke-width="0.6">2025</text>
<text x="241.8" y="647.3" font-size="11" fill="#131722" textLength="15" lengthAdjust="spacingAndGlyphs" stroke="#131722" stroke-width="0.2">Feb</text>
<text x="319.6" y="647.3" font-size="11" fill="#131722" textLength="17" lengthAdjust="spacingAndGlyphs" stroke="#131722" stroke-width="0.2">Mar</text>
<text x="407.5" y="647.3" font-size="11" fill="#131722" textLength="15.2" lengthAdjust="spacingAndGlyphs" stroke="#131722" stroke-width="0.2">Apr</text>
<text x="490.2" y="647.3" font-size="11" fill="#131722" textLength="17.7" lengthAdjust="spacingAndGlyphs" stroke="#131722" stroke-width="0.2">May</text>
<text x="578.4" y="647.3" font-size="11" fill="#131722" textLength="16.4" lengthAdjust="spacingAndGlyphs" stroke="#131722" stroke-width="0.2">Jun</text>
<text x="664.2" y="647.3" font-size="11" fill="#131722" textLength="12.9" lengthAdjust="spacingAndGlyphs" stroke="#131722" stroke-width="0.2">Jul</text>
<text x="748.6" y="647.3" font-size="11" fill="#131722" textLength="17" lengthAdjust="spacingAndGlyphs" stroke="#131722" stroke-width="0.2">Aug</text>
<text x="835.6" y="647.3" font-size="11" fill="#131722" textLength="16.7" lengthAdjust="spacingAndGlyphs" stroke="#131722" stroke-width="0.2">Sep</text>
<text x="920.4" y="647.3" font-size="11" fill="#131722" textLength="16" lengthAdjust="spacingAndGlyphs" stroke="#131722" stroke-width="0.2">Oct</text>
<text x="1006.4" y="647.3" font-size="11" fill="#131722" textLength="17.7" lengthAdjust="spacingAndGlyphs" stroke="#131722" stroke-width="0.2">Nov</text>
<text x="12.6" y="37.0" font-size="11" fill="#131722" textLength="163.7" lengthAdjust="spacingAndGlyphs" stroke="#131722" stroke-width="0.2">ChainLink / TetherUS · 1D · Binance</text>
<text x="182.4" y="37.0" font-size="11" fill="#131722" stroke="#131722" stroke-width="0.2">O</text>
<text x="189.6" y="37.0" font-size="11" fill="#22ab94" textLength="24.6" lengthAdjust="spacingAndGlyphs" stroke="#22ab94" stroke-width="0.2">17.83</text>
<text x="220.3" y="37.0" font-size="11" fill="#131722" stroke="#131722" stroke-width="0.2">H</text>
<text x="227.6" y="37.0" font-size="11" fill="#22ab94" textLength="24.4" lengthAdjust="spacingAndGlyphs" stroke="#22ab94" stroke-width="0.2">18.32</text>
<text x="258.8" y="37.0" font-size="11" fill="#131722" stroke="#131722" stroke-width="0.2">L</text>
<text x="264.2" y="37.0" font-size="11" fill="#22ab94" textLength="24.1" lengthAdjust="spacingAndGlyphs" stroke="#22ab94" stroke-width="0.2">17.73</text>
<text x="295.1" y="37.0" font-size="11" fill="#131722" stroke="#131722" stroke-width="0.2">C</text>
<text x="302.2" y="37.0" font-size="11" fill="#22ab94" textLength="24.2" lengthAdjust="spacingAndGlyphs" stroke="#22ab94" stroke-width="0.2">18.18</text>
<text x="332.5" y="37.0" font-size="11" fill="#22ab94" textLength="66.9" lengthAdjust="spacingAndGlyphs" stroke="#22ab94" stroke-width="0.2">+0.35 (+1.96%)</text>
<text x="12.6" y="51.7" font-size="11" fill="#131722" textLength="68.4" lengthAdjust="spacingAndGlyphs" stroke="#131722" stroke-width="0.2">EMA (20, close)</text>
<text x="89.4" y="51.7" font-size="11" fill="#2962ff" textLength="24.4" lengthAdjust="spacingAndGlyphs" stroke="#2962ff" stroke-width="0.2">18.52</text>
<text x="12.6" y="66.0" font-size="11" fill="#131722" textLength="68.4" lengthAdjust="spacingAndGlyphs" stroke="#131722" stroke-width="0.2">SMA (50, close)</text>
<text x="88.3" y="66.0" font-size="11" fill="#f23645" textLength="24.7" lengthAdjust="spacingAndGlyphs" stroke="#f23645" stroke-width="0.2">20.78</text>
<text x="12.5" y="495.0" font-size="11" fill="#131722" textLength="64" lengthAdjust="spacingAndGlyphs" stroke="#131722" stroke-width="0.2">RSI (14, close)</text>
<text x="83.0" y="495.0" font-size="11" fill="#7e57c2" textLength="25" lengthAdjust="spacingAndGlyphs" stroke="#7e57c2" stroke-width="0.2">45.56</text>
<text x="114.4" y="495.0" font-size="11" fill="#f2c94c" textLength="25.2" lengthAdjust="spacingAndGlyphs" stroke="#f2c94c" stroke-width="0.2">41.23</text>
<path d="M933.7,127.2 H1007.7 Q1013.7,127.2 1013.7,133.2 V149.8 Q1013.7,155.8 1007.7,155.8 H977 L961.4,176.2 L963.5,155.8 H933.7 Q927.7,155.8 927.7,149.8 V133.2 Q927.7,127.2 933.7,127.2 Z" fill="#fff" stroke="#b5575a" stroke-width="1.3"/>
<text x="937.0" y="145.0" font-size="11" fill="#a8393d" textLength="67.3" lengthAdjust="spacingAndGlyphs" stroke="#a8393d" stroke-width="0.3">Resistance line</text>
<path d="M1044.00,218.30 H1084.50 Q1084.50,218.30 1084.50,218.30 V232.60 Q1084.50,232.60 1084.50,232.60 H1044.00 Q1042.00,232.60 1042.00,230.60 V220.30 Q1042.00,218.30 1044.00,218.30 Z" fill="#f23645"/>
<text x="1045.8" y="229.3" font-size="11" fill="#fff" textLength="35" lengthAdjust="spacingAndGlyphs" stroke="#fff" stroke-width="0.2">SMA:MA</text>
<path d="M1085.00,218.30 H1119.70 Q1121.70,218.30 1121.70,220.30 V230.60 Q1121.70,232.60 1119.70,232.60 H1085.00 Q1085.00,232.60 1085.00,232.60 V218.30 Q1085.00,218.30 1085.00,218.30 Z" fill="#f23645"/>
<text x="1092.3" y="229.3" font-size="11" fill="#fff" textLength="24.3" lengthAdjust="spacingAndGlyphs" stroke="#fff" stroke-width="0.2">20.78</text>
<path d="M1060.00,250.30 H1084.50 Q1084.50,250.30 1084.50,250.30 V264.30 Q1084.50,264.30 1084.50,264.30 H1060.00 Q1058.00,264.30 1058.00,262.30 V252.30 Q1058.00,250.30 1060.00,250.30 Z" fill="#2962ff"/>
<text x="1062.3" y="261.2" font-size="11" fill="#fff" textLength="18.5" lengthAdjust="spacingAndGlyphs" stroke="#fff" stroke-width="0.2">EMA</text>
<path d="M1085.00,250.30 H1119.70 Q1121.70,250.30 1121.70,252.30 V262.30 Q1121.70,264.30 1119.70,264.30 H1085.00 Q1085.00,264.30 1085.00,264.30 V250.30 Q1085.00,250.30 1085.00,250.30 Z" fill="#2962ff"/>
<text x="1092.3" y="261.2" font-size="11" fill="#fff" textLength="24.3" lengthAdjust="spacingAndGlyphs" stroke="#fff" stroke-width="0.2">18.52</text>
<path d="M1035.00,264.60 H1084.50 Q1084.50,264.60 1084.50,264.60 V278.60 Q1084.50,278.60 1084.50,278.60 H1035.00 Q1033.00,278.60 1033.00,276.60 V266.60 Q1033.00,264.60 1035.00,264.60 Z" fill="#22ab94"/>
<text x="1037.0" y="275.5" font-size="11" fill="#fff" textLength="43.8" lengthAdjust="spacingAndGlyphs" stroke="#fff" stroke-width="0.2">LINKUSDT</text>
<path d="M1085.00,264.20 H1134.20 Q1136.20,264.20 1136.20,266.20 V300.80 Q1136.20,302.80 1134.20,302.80 H1085.00 Q1085.00,302.80 1085.00,302.80 V264.20 Q1085.00,264.20 1085.00,264.20 Z" fill="#22ab94"/>
<text x="1092.3" y="275.6" font-size="11" fill="#fff" textLength="24.8" lengthAdjust="spacingAndGlyphs" stroke="#fff" stroke-width="0.2">18.18</text>
<text x="1092.3" y="287.4" font-size="11" fill="#fff" textLength="36.3" lengthAdjust="spacingAndGlyphs" stroke="#fff" stroke-width="0.2">+67.71%</text>
<text x="1092.3" y="299.0" font-size="11" fill="#fff" textLength="38.8" lengthAdjust="spacingAndGlyphs" fill-opacity="0.8" stroke="#fff" stroke-width="0.2">08:45:33</text>
<path d="M1085,313.8 H1120 Q1122,313.8 1122,315.8 V326.1 Q1122,328.1 1120,328.1 H1085 Z" fill="#0000ff"/>
<text x="1092.3" y="324.8" font-size="11" fill="#fff" textLength="24.3" lengthAdjust="spacingAndGlyphs" font-weight="bold" stroke="#fff" stroke-width="0.2">15.43</text>
<path d="M1085,393.8 H1120 Q1122,393.8 1122,395.8 V406.1 Q1122,408.1 1120,408.1 H1085 Z" fill="#0000ff"/>
<text x="1092.3" y="404.8" font-size="11" fill="#fff" textLength="24.3" lengthAdjust="spacingAndGlyphs" font-weight="bold" stroke="#fff" stroke-width="0.2">10.94</text>
<path d="M1085,107 H1120 Q1122,107 1122,109 V119.3 Q1122,121.3 1120,121.3 H1085 Z" fill="#0000ff"/>
<text x="1092.3" y="118.0" font-size="11" fill="#fff" textLength="24.3" lengthAdjust="spacingAndGlyphs" font-weight="bold" stroke="#fff" stroke-width="0.2">27.00</text>
<path d="M1065.10,572.20 H1084.50 Q1084.50,572.20 1084.50,572.20 V586.70 Q1084.50,586.70 1084.50,586.70 H1065.10 Q1063.10,586.70 1063.10,584.70 V574.20 Q1063.10,572.20 1065.10,572.20 Z" fill="#7e57c2"/>
<text x="1067.5" y="583.3" font-size="11" fill="#fff" textLength="13.4" lengthAdjust="spacingAndGlyphs" stroke="#fff" stroke-width="0.2">RSI</text>
<path d="M1085.00,572.20 H1119.50 Q1121.50,572.20 1121.50,574.20 V584.70 Q1121.50,586.70 1119.50,586.70 H1085.00 Q1085.00,586.70 1085.00,586.70 V572.20 Q1085.00,572.20 1085.00,572.20 Z" fill="#7e57c2"/>
<text x="1091.9" y="583.3" font-size="11" fill="#fff" textLength="24.9" lengthAdjust="spacingAndGlyphs" stroke="#fff" stroke-width="0.2">45.56</text>
<path d="M1019.40,587.00 H1084.50 Q1084.50,587.00 1084.50,587.00 V601.30 Q1084.50,601.30 1084.50,601.30 H1019.40 Q1017.40,601.30 1017.40,599.30 V589.00 Q1017.40,587.00 1019.40,587.00 Z" fill="#fdd835"/>
<text x="1020.9" y="598.0" font-size="11" fill="#131722" textLength="60" lengthAdjust="spacingAndGlyphs" stroke="#131722" stroke-width="0.2">RSI-based MA</text>
<path d="M1085.00,587.00 H1119.50 Q1121.50,587.00 1121.50,589.00 V599.30 Q1121.50,601.30 1119.50,601.30 H1085.00 Q1085.00,601.30 1085.00,601.30 V587.00 Q1085.00,587.00 1085.00,587.00 Z" fill="#fdd835"/>
<text x="1091.9" y="598.0" font-size="11" fill="#131722" textLength="24.9" lengthAdjust="spacingAndGlyphs" stroke="#131722" stroke-width="0.2">41.23</text>
<path d="M1009.83,459.10 A8.2,8.2 0 1 0 1015.32,465.20" fill="none" stroke="#a641c4" stroke-width="1.8" stroke-linecap="round"/>
<path d="M1009.6,462.6 L1003.9,467.9 L1007.1,467.9 L1004.6,472 L1010.5,466.6 L1007.3,466.6 Z" fill="#a641c4"/>
<circle cx="1013.2" cy="461.3" r="2.4" fill="#f23645"/>
<g fill="#131722"><path d="M7.1,674.5 H17.1 V687 H12.1 V679.4 H7.1 Z"/><circle cx="21.5" cy="677" r="2.4"/><path d="M26.2,674.5 H32.3 L27.8,687 H22.1 Z"/></g>
<text x="39.0" y="687.5" font-size="18" fill="#131722" textLength="102.3" lengthAdjust="spacingAndGlyphs" font-weight="bold">TradingView</text>
</svg></body></html>
